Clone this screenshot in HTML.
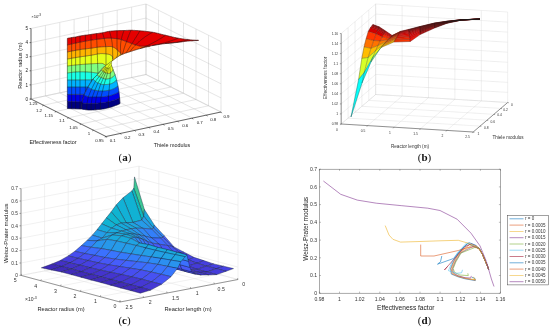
<!DOCTYPE html>
<html><head><meta charset="utf-8"><title>Figure</title>
<style>html,body{margin:0;padding:0;background:#fff;}svg{display:block;}</style>
</head><body>
<svg width="550" height="330" viewBox="0 0 550 330">
<rect width="550" height="330" fill="#ffffff"/>
<g id='plot_a'>
<g><line x1="31" y1="99" x2="31" y2="28.5" stroke="#c2c2c2" stroke-width="0.65" stroke-dasharray="0.7 0.35"/><line x1="45.4" y1="95.9" x2="45.4" y2="25.4" stroke="#c2c2c2" stroke-width="0.65" stroke-dasharray="0.7 0.35"/><line x1="59.8" y1="92.9" x2="59.8" y2="22.4" stroke="#c2c2c2" stroke-width="0.65" stroke-dasharray="0.7 0.35"/><line x1="74.1" y1="89.8" x2="74.1" y2="19.3" stroke="#c2c2c2" stroke-width="0.65" stroke-dasharray="0.7 0.35"/><line x1="88.5" y1="86.8" x2="88.5" y2="16.2" stroke="#c2c2c2" stroke-width="0.65" stroke-dasharray="0.7 0.35"/><line x1="102.9" y1="83.7" x2="102.9" y2="13.2" stroke="#c2c2c2" stroke-width="0.65" stroke-dasharray="0.7 0.35"/><line x1="117.2" y1="80.6" x2="117.2" y2="10.1" stroke="#c2c2c2" stroke-width="0.65" stroke-dasharray="0.7 0.35"/><line x1="131.6" y1="77.6" x2="131.6" y2="7.1" stroke="#c2c2c2" stroke-width="0.65" stroke-dasharray="0.7 0.35"/><line x1="146" y1="74.5" x2="146" y2="4" stroke="#c2c2c2" stroke-width="0.65" stroke-dasharray="0.7 0.35"/><line x1="31" y1="99" x2="146" y2="74.5" stroke="#c2c2c2" stroke-width="0.65" stroke-dasharray="0.7 0.35"/><line x1="31" y1="84.9" x2="146" y2="60.4" stroke="#c2c2c2" stroke-width="0.65" stroke-dasharray="0.7 0.35"/><line x1="31" y1="70.8" x2="146" y2="46.3" stroke="#c2c2c2" stroke-width="0.65" stroke-dasharray="0.7 0.35"/><line x1="31" y1="56.7" x2="146" y2="32.2" stroke="#c2c2c2" stroke-width="0.65" stroke-dasharray="0.7 0.35"/><line x1="31" y1="42.6" x2="146" y2="18.1" stroke="#c2c2c2" stroke-width="0.65" stroke-dasharray="0.7 0.35"/><line x1="31" y1="28.5" x2="146" y2="4" stroke="#c2c2c2" stroke-width="0.65" stroke-dasharray="0.7 0.35"/><line x1="221" y1="112" x2="221" y2="41.5" stroke="#c2c2c2" stroke-width="0.65" stroke-dasharray="0.7 0.35"/><line x1="208.5" y1="105.8" x2="208.5" y2="35.2" stroke="#c2c2c2" stroke-width="0.65" stroke-dasharray="0.7 0.35"/><line x1="196" y1="99.5" x2="196" y2="29" stroke="#c2c2c2" stroke-width="0.65" stroke-dasharray="0.7 0.35"/><line x1="183.5" y1="93.2" x2="183.5" y2="22.8" stroke="#c2c2c2" stroke-width="0.65" stroke-dasharray="0.7 0.35"/><line x1="171" y1="87" x2="171" y2="16.5" stroke="#c2c2c2" stroke-width="0.65" stroke-dasharray="0.7 0.35"/><line x1="158.5" y1="80.8" x2="158.5" y2="10.2" stroke="#c2c2c2" stroke-width="0.65" stroke-dasharray="0.7 0.35"/><line x1="146" y1="74.5" x2="146" y2="4" stroke="#c2c2c2" stroke-width="0.65" stroke-dasharray="0.7 0.35"/><line x1="221" y1="112" x2="146" y2="74.5" stroke="#c2c2c2" stroke-width="0.65" stroke-dasharray="0.7 0.35"/><line x1="221" y1="97.9" x2="146" y2="60.4" stroke="#c2c2c2" stroke-width="0.65" stroke-dasharray="0.7 0.35"/><line x1="221" y1="83.8" x2="146" y2="46.3" stroke="#c2c2c2" stroke-width="0.65" stroke-dasharray="0.7 0.35"/><line x1="221" y1="69.7" x2="146" y2="32.2" stroke="#c2c2c2" stroke-width="0.65" stroke-dasharray="0.7 0.35"/><line x1="221" y1="55.6" x2="146" y2="18.1" stroke="#c2c2c2" stroke-width="0.65" stroke-dasharray="0.7 0.35"/><line x1="221" y1="41.5" x2="146" y2="4" stroke="#c2c2c2" stroke-width="0.65" stroke-dasharray="0.7 0.35"/><line x1="106" y1="136.5" x2="31" y2="99" stroke="#c2c2c2" stroke-width="0.65" stroke-dasharray="0.7 0.35"/><line x1="120.4" y1="133.4" x2="45.4" y2="95.9" stroke="#c2c2c2" stroke-width="0.65" stroke-dasharray="0.7 0.35"/><line x1="134.8" y1="130.4" x2="59.8" y2="92.9" stroke="#c2c2c2" stroke-width="0.65" stroke-dasharray="0.7 0.35"/><line x1="149.1" y1="127.3" x2="74.1" y2="89.8" stroke="#c2c2c2" stroke-width="0.65" stroke-dasharray="0.7 0.35"/><line x1="163.5" y1="124.2" x2="88.5" y2="86.8" stroke="#c2c2c2" stroke-width="0.65" stroke-dasharray="0.7 0.35"/><line x1="177.9" y1="121.2" x2="102.9" y2="83.7" stroke="#c2c2c2" stroke-width="0.65" stroke-dasharray="0.7 0.35"/><line x1="192.2" y1="118.1" x2="117.2" y2="80.6" stroke="#c2c2c2" stroke-width="0.65" stroke-dasharray="0.7 0.35"/><line x1="206.6" y1="115.1" x2="131.6" y2="77.6" stroke="#c2c2c2" stroke-width="0.65" stroke-dasharray="0.7 0.35"/><line x1="221" y1="112" x2="146" y2="74.5" stroke="#c2c2c2" stroke-width="0.65" stroke-dasharray="0.7 0.35"/><line x1="106" y1="136.5" x2="221" y2="112" stroke="#c2c2c2" stroke-width="0.65" stroke-dasharray="0.7 0.35"/><line x1="93.5" y1="130.2" x2="208.5" y2="105.8" stroke="#c2c2c2" stroke-width="0.65" stroke-dasharray="0.7 0.35"/><line x1="81" y1="124" x2="196" y2="99.5" stroke="#c2c2c2" stroke-width="0.65" stroke-dasharray="0.7 0.35"/><line x1="68.5" y1="117.8" x2="183.5" y2="93.2" stroke="#c2c2c2" stroke-width="0.65" stroke-dasharray="0.7 0.35"/><line x1="56" y1="111.5" x2="171" y2="87" stroke="#c2c2c2" stroke-width="0.65" stroke-dasharray="0.7 0.35"/><line x1="43.5" y1="105.2" x2="158.5" y2="80.8" stroke="#c2c2c2" stroke-width="0.65" stroke-dasharray="0.7 0.35"/><line x1="31" y1="99" x2="146" y2="74.5" stroke="#c2c2c2" stroke-width="0.65" stroke-dasharray="0.7 0.35"/></g>
<line x1="31" y1="99" x2="31" y2="28.5" stroke="#111" stroke-width="0.6" />
<line x1="31" y1="99" x2="106" y2="136.5" stroke="#111" stroke-width="0.6" />
<line x1="106" y1="136.5" x2="221" y2="112" stroke="#111" stroke-width="0.6" />
<line x1="31" y1="99" x2="29.5" y2="99" stroke="#111" stroke-width="0.5" />
<line x1="31" y1="84.9" x2="29.5" y2="84.9" stroke="#111" stroke-width="0.5" />
<line x1="31" y1="70.8" x2="29.5" y2="70.8" stroke="#111" stroke-width="0.5" />
<line x1="31" y1="56.7" x2="29.5" y2="56.7" stroke="#111" stroke-width="0.5" />
<line x1="31" y1="42.6" x2="29.5" y2="42.6" stroke="#111" stroke-width="0.5" />
<line x1="31" y1="28.5" x2="29.5" y2="28.5" stroke="#111" stroke-width="0.5" />
<line x1="106" y1="136.5" x2="104.8" y2="137.2" stroke="#111" stroke-width="0.5" />
<line x1="93.5" y1="130.2" x2="92.3" y2="130.9" stroke="#111" stroke-width="0.5" />
<line x1="81" y1="124" x2="79.8" y2="124.7" stroke="#111" stroke-width="0.5" />
<line x1="68.5" y1="117.8" x2="67.3" y2="118.5" stroke="#111" stroke-width="0.5" />
<line x1="56" y1="111.5" x2="54.8" y2="112.2" stroke="#111" stroke-width="0.5" />
<line x1="43.5" y1="105.2" x2="42.3" y2="106" stroke="#111" stroke-width="0.5" />
<line x1="31" y1="99" x2="29.8" y2="99.7" stroke="#111" stroke-width="0.5" />
<line x1="106" y1="136.5" x2="106.8" y2="137.7" stroke="#111" stroke-width="0.5" />
<line x1="120.4" y1="133.4" x2="121.2" y2="134.6" stroke="#111" stroke-width="0.5" />
<line x1="134.8" y1="130.4" x2="135.6" y2="131.6" stroke="#111" stroke-width="0.5" />
<line x1="149.1" y1="127.3" x2="149.9" y2="128.5" stroke="#111" stroke-width="0.5" />
<line x1="163.5" y1="124.2" x2="164.3" y2="125.5" stroke="#111" stroke-width="0.5" />
<line x1="177.9" y1="121.2" x2="178.7" y2="122.4" stroke="#111" stroke-width="0.5" />
<line x1="192.2" y1="118.1" x2="193.1" y2="119.3" stroke="#111" stroke-width="0.5" />
<line x1="206.6" y1="115.1" x2="207.4" y2="116.3" stroke="#111" stroke-width="0.5" />
<line x1="221" y1="112" x2="221.8" y2="113.2" stroke="#111" stroke-width="0.5" />
<g stroke-linejoin='round'><polygon points="67.4,101.5 82.2,102 82.1,102 82.1,102.5 82,103 81.9,103.5 81.9,104 81.8,104.5 81.8,105 81.8,105.5 81.7,106 81.7,106.5 81.7,107 81.6,107.5 81.6,108 81.6,108.5 81.6,109 81.6,109 67.4,108.5" fill="#000080" stroke="#000080" stroke-width="0.3" /><polygon points="67.4,94.5 84.3,94.3 84.2,94.3 84.1,94.8 83.9,95.3 83.8,95.7 83.6,96.2 83.4,96.7 83.3,97.2 83.1,97.6 83,98.1 82.9,98.6 82.7,99.1 82.6,99.6 82.5,100.1 82.4,100.6 82.3,101.1 82.2,101.6 82.1,102 82.2,102 67.4,101.5" fill="#0000e6" stroke="#0000e6" stroke-width="0.3" /><polygon points="67.4,87 88,87 88.1,86.8 87.9,87.2 87.6,87.7 87.4,88.1 87.1,88.5 86.9,89 86.6,89.4 86.4,89.9 86.2,90.3 85.9,90.7 85.7,91.2 85.4,91.6 85.2,92.1 85,92.5 84.8,93 84.6,93.4 84.4,93.9 84.2,94.3 84.3,94.3 67.4,94.5" fill="#004dff" stroke="#004dff" stroke-width="0.3" /><polygon points="67.4,80 92.5,79.8 92.6,79.5 92.3,79.9 92,80.3 91.7,80.7 91.4,81.1 91.1,81.6 90.9,82 90.6,82.4 90.3,82.8 90.1,83.3 89.8,83.7 89.6,84.2 89.3,84.6 89.1,85 88.8,85.5 88.6,85.9 88.4,86.4 88.1,86.8 88,87 67.4,87" fill="#00b2ff" stroke="#00b2ff" stroke-width="0.3" /><polygon points="67.4,73 67.8,72.9 68.2,72.9 68.6,72.8 69,72.7 69.4,72.7 69.8,72.6 70.2,72.6 70.5,72.5 70.9,72.5 71.3,72.4 71.7,72.4 72.1,72.3 72.5,72.3 72.9,72.2 73.3,72.2 73.7,72.1 74.1,72.1 74.5,72.1 74.9,72 75.3,72 75.7,72 76.1,71.9 76.4,71.9 76.8,71.9 77.2,71.9 77.6,71.9 78,71.8 78.4,71.8 78.8,71.8 79.2,71.8 79.6,71.8 80,71.8 80.4,71.8 80.8,71.8 81.2,71.8 81.6,71.8 82,71.8 82.4,71.8 82.7,71.8 83.1,71.8 83.5,71.8 83.9,71.9 84.3,71.9 84.7,71.9 85.1,71.9 85.5,71.9 85.9,71.9 86.3,71.9 86.7,72 87.1,72 87.5,72 87.9,72 88.3,72.1 88.7,72.1 89,72.1 89.4,72.1 89.8,72.2 90.2,72.2 90.6,72.2 91,72.3 91.4,72.3 91.8,72.3 92.2,72.4 92.6,72.4 93,72.5 93.4,72.5 93.8,72.6 94.2,72.6 94.6,72.7 95,72.7 95.3,72.8 95.7,72.8 96.1,72.9 96.5,73 96.9,73 97.3,73.1 97.7,73.2 98.1,73.2 98.5,73.3 98.4,73.5 98.1,73.9 97.9,74.4 97.6,74.8 97.3,75.1 97,75.5 96.6,75.8 96.2,76.2 95.8,76.5 95.4,76.8 95,77.1 94.6,77.5 94.3,77.8 93.9,78.1 93.5,78.4 93.2,78.8 92.9,79.2 92.6,79.5 92.5,79.8 67.4,80" fill="#1affe5" stroke="#1affe5" stroke-width="0.3" /><polygon points="67.4,66 67.9,65.9 68.4,65.9 68.9,65.8 69.4,65.7 69.9,65.7 70.4,65.6 70.9,65.6 71.3,65.5 71.8,65.4 72.3,65.4 72.8,65.3 73.3,65.3 73.8,65.2 74.3,65.1 74.8,65.1 75.3,65 75.8,65 76.3,64.9 76.8,64.9 77.3,64.8 77.8,64.8 78.3,64.7 78.8,64.7 79.3,64.7 79.7,64.6 80.2,64.6 80.7,64.5 81.2,64.5 81.7,64.5 82.2,64.4 82.7,64.4 83.2,64.4 83.7,64.3 84.2,64.3 84.8,64.2 85.3,64.2 85.8,64.2 86.3,64.1 86.8,64.1 87.3,64.1 87.8,64 88.3,64 88.8,63.9 89.3,63.9 89.8,63.9 90.3,63.8 90.8,63.8 91.3,63.8 91.9,63.7 92.4,63.7 92.9,63.7 93.4,63.7 93.9,63.6 94.4,63.6 94.9,63.6 95.4,63.6 95.8,63.5 96.3,63.5 96.8,63.5 97.3,63.5 97.8,63.5 98.3,63.5 98.8,63.4 99.2,63.4 99.7,63.4 100.2,63.4 100.7,63.4 101.1,63.4 101.6,63.4 102,63.4 102.5,63.5 103,63.6 103.4,63.9 103.8,64.1 104.3,64.4 104.7,64.7 105.1,65 105.6,65.3 106,65.6 105.8,65.5 105.4,65.8 105,66.1 104.6,66.4 104.2,66.7 103.8,67 103.4,67.3 103,67.6 102.7,68 102.3,68.3 102,68.7 101.7,69.1 101.3,69.4 101,69.8 100.7,70.2 100.4,70.6 100.1,71 99.8,71.4 99.5,71.8 99.2,72.2 98.9,72.6 98.7,73.1 98.4,73.5 98.5,73.3 98.1,73.2 97.7,73.2 97.3,73.1 96.9,73 96.5,73 96.1,72.9 95.7,72.8 95.3,72.8 95,72.7 94.6,72.7 94.2,72.6 93.8,72.6 93.4,72.5 93,72.5 92.6,72.4 92.2,72.4 91.8,72.3 91.4,72.3 91,72.3 90.6,72.2 90.2,72.2 89.8,72.2 89.4,72.1 89,72.1 88.7,72.1 88.3,72.1 87.9,72 87.5,72 87.1,72 86.7,72 86.3,71.9 85.9,71.9 85.5,71.9 85.1,71.9 84.7,71.9 84.3,71.9 83.9,71.9 83.5,71.8 83.1,71.8 82.7,71.8 82.4,71.8 82,71.8 81.6,71.8 81.2,71.8 80.8,71.8 80.4,71.8 80,71.8 79.6,71.8 79.2,71.8 78.8,71.8 78.4,71.8 78,71.8 77.6,71.9 77.2,71.9 76.8,71.9 76.4,71.9 76.1,71.9 75.7,72 75.3,72 74.9,72 74.5,72.1 74.1,72.1 73.7,72.1 73.3,72.2 72.9,72.2 72.5,72.3 72.1,72.3 71.7,72.4 71.3,72.4 70.9,72.5 70.5,72.5 70.2,72.6 69.8,72.6 69.4,72.7 69,72.7 68.6,72.8 68.2,72.9 67.8,72.9 67.4,73" fill="#80ff80" stroke="#80ff80" stroke-width="0.3" /><polygon points="67.4,59 68,58.9 68.6,58.8 69.3,58.7 69.9,58.6 70.5,58.5 71.1,58.3 71.8,58.2 72.4,58.1 73,58 73.6,57.9 74.3,57.8 74.9,57.7 75.5,57.6 76.1,57.5 76.8,57.4 77.4,57.3 78,57.2 78.6,57.1 79.3,57 79.9,56.9 80.5,56.8 81.1,56.7 81.8,56.6 82.4,56.5 83,56.4 83.6,56.4 84.3,56.3 84.9,56.2 85.5,56.1 86.2,56 86.8,55.9 87.4,55.8 88,55.7 88.7,55.6 89.3,55.5 89.9,55.4 90.5,55.4 91.2,55.3 91.8,55.2 92.4,55 93,54.9 93.7,54.8 94.3,54.7 94.9,54.5 95.5,54.4 96.2,54.3 96.8,54.2 97.4,54 98,53.9 98.7,53.8 99.3,53.8 99.9,53.7 100.5,53.6 101.2,53.6 101.8,53.6 102.4,53.6 103.1,53.6 103.7,53.7 104.4,53.7 105,53.8 105.7,53.8 106.3,53.9 106.9,54 107.6,54.1 108.1,54.2 108.7,54.3 109.4,54.5 110,54.8 110.7,55.1 111.3,55.5 111.9,56 112.3,56.5 112.6,56.9 112.7,57.4 112.7,58 112.7,58.6 112.6,59.2 112.5,59.9 112.4,60.6 112.3,60.8 111.9,61.1 111.5,61.4 111.1,61.7 110.7,62 110.3,62.3 109.9,62.6 109.5,62.9 109.1,63.2 108.7,63.5 108.3,63.8 107.9,64.1 107.5,64.4 107.1,64.7 106.6,65 106.2,65.2 105.8,65.5 106,65.6 105.6,65.3 105.1,65 104.7,64.7 104.3,64.4 103.8,64.1 103.4,63.9 103,63.6 102.5,63.5 102,63.4 101.6,63.4 101.1,63.4 100.7,63.4 100.2,63.4 99.7,63.4 99.2,63.4 98.8,63.4 98.3,63.5 97.8,63.5 97.3,63.5 96.8,63.5 96.3,63.5 95.8,63.5 95.4,63.6 94.9,63.6 94.4,63.6 93.9,63.6 93.4,63.7 92.9,63.7 92.4,63.7 91.9,63.7 91.3,63.8 90.8,63.8 90.3,63.8 89.8,63.9 89.3,63.9 88.8,63.9 88.3,64 87.8,64 87.3,64.1 86.8,64.1 86.3,64.1 85.8,64.2 85.3,64.2 84.8,64.2 84.2,64.3 83.7,64.3 83.2,64.4 82.7,64.4 82.2,64.4 81.7,64.5 81.2,64.5 80.7,64.5 80.2,64.6 79.7,64.6 79.3,64.7 78.8,64.7 78.3,64.7 77.8,64.8 77.3,64.8 76.8,64.9 76.3,64.9 75.8,65 75.3,65 74.8,65.1 74.3,65.1 73.8,65.2 73.3,65.3 72.8,65.3 72.3,65.4 71.8,65.4 71.3,65.5 70.9,65.6 70.4,65.6 69.9,65.7 69.4,65.7 68.9,65.8 68.4,65.9 67.9,65.9 67.4,66" fill="#e5ff1a" stroke="#e5ff1a" stroke-width="0.3" /><polygon points="67.4,52 68.1,51.8 68.8,51.7 69.5,51.5 70.3,51.4 71,51.2 71.7,51.1 72.4,50.9 73.1,50.8 73.9,50.7 74.6,50.5 75.3,50.4 76,50.3 76.7,50.1 77.4,50 78.2,49.9 78.9,49.8 79.6,49.7 80.3,49.5 81.1,49.4 81.8,49.3 82.5,49.2 83.2,49.1 84,49.1 84.7,49 85.4,48.9 86.1,48.8 86.9,48.7 87.6,48.6 88.3,48.5 89,48.4 89.8,48.3 90.5,48.3 91.2,48.2 91.9,48.1 92.7,48 93.4,47.8 94.1,47.7 94.8,47.6 95.6,47.5 96.3,47.4 97,47.3 97.7,47.2 98.5,47.1 99.2,47 99.9,46.9 100.6,46.9 101.4,46.8 102.1,46.8 102.8,46.7 103.6,46.7 104.3,46.7 105.1,46.6 105.8,46.6 106.5,46.6 107.3,46.6 108,46.5 108.7,46.5 109.4,46.5 110.2,46.5 110.9,46.5 111.6,46.6 112.3,46.8 113,47.1 113.7,47.4 114.4,47.7 115,48.1 115.6,48.5 116.2,48.9 116.8,49.3 117.3,49.8 117.8,50.4 118.3,50.9 118.8,51.5 119.3,52 119.8,52.5 120.4,53 120.9,53.5 121.5,54 122,54.5 121.8,54.5 121.4,54.7 120.9,54.9 120.5,55.2 120,55.4 119.6,55.6 119.2,55.9 118.8,56.2 118.3,56.4 117.9,56.7 117.5,57 117.1,57.3 116.7,57.5 116.3,57.8 115.8,58.1 115.4,58.4 115,58.7 114.6,59 114.2,59.3 113.8,59.6 113.4,59.9 113,60.2 112.6,60.5 112.3,60.8 112.4,60.6 112.5,59.9 112.6,59.2 112.7,58.6 112.7,58 112.7,57.4 112.6,56.9 112.3,56.5 111.9,56 111.3,55.5 110.7,55.1 110,54.8 109.4,54.5 108.7,54.3 108.1,54.2 107.6,54.1 106.9,54 106.3,53.9 105.7,53.8 105,53.8 104.4,53.7 103.7,53.7 103.1,53.6 102.4,53.6 101.8,53.6 101.2,53.6 100.5,53.6 99.9,53.7 99.3,53.8 98.7,53.8 98,53.9 97.4,54 96.8,54.2 96.2,54.3 95.5,54.4 94.9,54.5 94.3,54.7 93.7,54.8 93,54.9 92.4,55 91.8,55.2 91.2,55.3 90.5,55.4 89.9,55.4 89.3,55.5 88.7,55.6 88,55.7 87.4,55.8 86.8,55.9 86.2,56 85.5,56.1 84.9,56.2 84.3,56.3 83.6,56.4 83,56.4 82.4,56.5 81.8,56.6 81.1,56.7 80.5,56.8 79.9,56.9 79.3,57 78.6,57.1 78,57.2 77.4,57.3 76.8,57.4 76.1,57.5 75.5,57.6 74.9,57.7 74.3,57.8 73.6,57.9 73,58 72.4,58.1 71.8,58.2 71.1,58.3 70.5,58.5 69.9,58.6 69.3,58.7 68.6,58.8 68,58.9 67.4,59" fill="#ffb300" stroke="#ffb300" stroke-width="0.3" /><polygon points="67.4,45 68.4,44.7 69.5,44.5 70.5,44.3 71.6,44 72.6,43.8 73.6,43.5 74.7,43.3 75.7,43.1 76.8,42.9 77.8,42.6 78.9,42.4 79.9,42.2 81,42 82,41.8 83.1,41.6 84.1,41.4 85.2,41.2 86.2,41 87.3,40.8 88.3,40.6 89.4,40.4 90.4,40.3 91.5,40.1 92.5,39.9 93.6,39.8 94.6,39.6 95.7,39.5 96.8,39.4 97.8,39.2 98.9,39.1 99.9,39 101,38.8 102.1,38.7 103.1,38.6 104.2,38.5 105.3,38.4 106.3,38.3 107.4,38.2 108.5,38.2 109.5,38.2 110.6,38.2 111.7,38.3 112.7,38.3 113.8,38.4 114.9,38.5 115.9,38.6 117,38.7 118,38.9 119.1,39 120.1,39.3 121.1,39.6 122.1,39.9 123.1,40.3 124.1,40.7 125.2,41.1 126.2,41.5 127.2,41.9 128.2,42.2 129.2,42.6 130.2,43 131.2,43.3 132.2,43.7 133.2,44.1 134.2,44.4 135.2,44.7 136.3,45 137.3,45.4 138.3,45.7 139.4,46 140.4,46.1 141.5,46.2 142.5,46.2 143.6,46.2 144.6,46.2 145.7,46.2 146.8,46.2 147.8,46.2 148.9,46.1 150,46.1 150,46.1 149.5,46.2 149,46.3 148.5,46.4 148.1,46.5 147.6,46.6 147.1,46.7 146.6,46.9 146.1,47 145.6,47.1 145.1,47.2 144.7,47.3 144.2,47.5 143.7,47.6 143.2,47.7 142.7,47.9 142.2,48 141.8,48.1 141.3,48.2 140.8,48.4 140.3,48.5 139.8,48.6 139.4,48.8 138.9,48.9 138.4,49 137.9,49.2 137.4,49.3 137,49.5 136.5,49.6 136,49.8 135.5,49.9 135.1,50 134.6,50.2 134.1,50.3 133.6,50.5 133.2,50.6 132.7,50.8 132.2,51 131.7,51.1 131.3,51.3 130.8,51.4 130.3,51.6 129.8,51.7 129.4,51.9 128.9,52 128.4,52.2 127.9,52.3 127.5,52.5 127,52.7 126.5,52.8 126,53 125.5,53.1 125.1,53.3 124.6,53.4 124.1,53.6 123.7,53.8 123.2,54 122.7,54.1 122.3,54.3 121.8,54.5 122,54.5 121.5,54 120.9,53.5 120.4,53 119.8,52.5 119.3,52 118.8,51.5 118.3,50.9 117.8,50.4 117.3,49.8 116.8,49.3 116.2,48.9 115.6,48.5 115,48.1 114.4,47.7 113.7,47.4 113,47.1 112.3,46.8 111.6,46.6 110.9,46.5 110.2,46.5 109.4,46.5 108.7,46.5 108,46.5 107.3,46.6 106.5,46.6 105.8,46.6 105.1,46.6 104.3,46.7 103.6,46.7 102.8,46.7 102.1,46.8 101.4,46.8 100.6,46.9 99.9,46.9 99.2,47 98.5,47.1 97.7,47.2 97,47.3 96.3,47.4 95.6,47.5 94.8,47.6 94.1,47.7 93.4,47.8 92.7,48 91.9,48.1 91.2,48.2 90.5,48.3 89.8,48.3 89,48.4 88.3,48.5 87.6,48.6 86.9,48.7 86.1,48.8 85.4,48.9 84.7,49 84,49.1 83.2,49.1 82.5,49.2 81.8,49.3 81.1,49.4 80.3,49.5 79.6,49.7 78.9,49.8 78.2,49.9 77.4,50 76.7,50.1 76,50.3 75.3,50.4 74.6,50.5 73.9,50.7 73.1,50.8 72.4,50.9 71.7,51.1 71,51.2 70.3,51.4 69.5,51.5 68.8,51.7 68.1,51.8 67.4,52" fill="#ff4c00" stroke="#ff4c00" stroke-width="0.3" /><polygon points="67.4,38.4 68.1,38.3 68.7,38.1 69.4,38 70,37.9 70.7,37.8 71.3,37.6 72,37.5 72.6,37.4 73.3,37.3 74,37.3 74.6,37.2 75.3,37.1 75.9,36.9 76.6,36.8 77.2,36.6 77.9,36.5 78.5,36.3 79.2,36.2 79.8,36 80.5,35.9 81.1,35.8 81.8,35.7 82.5,35.6 83.1,35.5 83.8,35.4 84.4,35.3 85.1,35.2 85.8,35.1 86.4,35.1 87.1,35 87.7,34.9 88.4,34.8 89.1,34.7 89.7,34.6 90.4,34.5 91,34.4 91.7,34.3 92.4,34.2 93,34.1 93.7,34 94.3,33.9 95,33.8 95.7,33.7 96.3,33.6 97,33.5 97.6,33.5 98.3,33.4 99,33.3 99.6,33.2 100.3,33.1 101,33 101.6,32.9 102.3,32.8 102.9,32.7 103.6,32.6 104.2,32.4 104.9,32.3 105.5,32.1 106.2,31.9 106.8,31.8 107.5,31.6 108.1,31.5 108.8,31.4 109.4,31.3 110.1,31.2 110.8,31.2 111.4,31.1 112.1,31 112.8,31 113.4,30.9 114.1,30.9 114.8,30.8 115.4,30.8 116.1,30.7 116.8,30.7 117.4,30.7 118.1,30.7 118.8,30.6 119.4,30.6 120.1,30.6 120.8,30.6 121.4,30.6 122.1,30.5 122.8,30.5 123.4,30.5 124.1,30.5 124.8,30.5 125.4,30.5 126.1,30.4 126.8,30.4 127.4,30.4 128.1,30.4 128.8,30.3 129.4,30.3 130.1,30.3 130.7,30.3 131.4,30.3 132.1,30.3 132.7,30.3 133.4,30.4 134.1,30.4 134.7,30.4 135.4,30.5 136.1,30.5 136.7,30.6 137.4,30.6 138.1,30.7 138.7,30.7 139.4,30.8 140.1,30.8 140.7,30.9 141.4,30.9 142.1,31 142.7,31 143.4,31.1 144.1,31.2 144.7,31.2 145.4,31.3 146,31.4 146.7,31.5 147.4,31.5 148,31.6 148.7,31.7 149.4,31.8 150,31.9 150.7,32 151.3,32.1 152,32.2 152.6,32.3 153.3,32.4 154,32.5 154.6,32.6 155.3,32.8 155.9,32.9 156.6,33.1 157.2,33.2 157.9,33.4 158.5,33.5 159.2,33.7 159.8,33.9 160.4,34 161.1,34.2 161.7,34.4 162.4,34.5 163,34.7 163.7,34.9 164.3,35 165,35.2 165.6,35.3 166.3,35.5 166.9,35.6 167.6,35.8 168.2,35.9 168.9,36.1 169.5,36.3 170.2,36.4 170.8,36.6 171.5,36.7 172.1,36.9 172.8,37.1 173.4,37.2 174.1,37.4 174.7,37.5 175.4,37.6 176,37.8 176.7,37.9 177.3,38 178,38.2 178.6,38.3 179.3,38.4 179.9,38.5 180.6,38.6 181.3,38.7 181.9,38.8 182.6,38.9 183.2,39 183.9,39.1 184.6,39.2 185.2,39.3 185.9,39.4 186.5,39.5 187.2,39.6 187.9,39.6 188.5,39.7 189.2,39.8 189.8,39.8 190.5,39.9 191.2,39.9 191.8,40 192.5,40.1 193.2,40.1 193.8,40.2 194.5,40.2 195.2,40.2 195.8,40.3 196.5,40.3 197.2,40.3 197.8,40.4 198.5,40.4 198.5,40.4 198,40.4 197.5,40.4 197,40.4 196.5,40.5 196,40.5 195.5,40.5 195,40.5 194.5,40.6 194,40.6 193.5,40.6 193,40.7 192.5,40.7 192,40.7 191.5,40.8 191,40.8 190.5,40.8 190,40.9 189.5,40.9 189,40.9 188.5,41 188,41 187.6,41.1 187.1,41.1 186.6,41.2 186.1,41.2 185.6,41.3 185.1,41.4 184.6,41.4 184.1,41.5 183.6,41.6 183.1,41.6 182.6,41.7 182.1,41.8 181.6,41.9 181.1,41.9 180.6,42 180.1,42.1 179.6,42.1 179.1,42.2 178.6,42.2 178.2,42.3 177.7,42.4 177.2,42.4 176.7,42.5 176.2,42.5 175.7,42.6 175.2,42.6 174.7,42.6 174.2,42.7 173.7,42.7 173.2,42.8 172.7,42.8 172.2,42.9 171.7,42.9 171.2,42.9 170.7,43 170.2,43 169.7,43.1 169.2,43.1 168.7,43.2 168.2,43.2 167.7,43.3 167.2,43.3 166.7,43.4 166.2,43.4 165.7,43.5 165.2,43.5 164.7,43.6 164.3,43.7 163.8,43.7 163.3,43.8 162.8,43.8 162.3,43.9 161.8,44 161.3,44.1 160.8,44.1 160.3,44.2 159.8,44.3 159.3,44.4 158.8,44.4 158.3,44.5 157.8,44.6 157.3,44.7 156.8,44.8 156.4,44.8 155.9,44.9 155.4,45 154.9,45.1 154.4,45.2 153.9,45.3 153.4,45.4 152.9,45.5 152.4,45.6 151.9,45.6 151.5,45.7 151,45.8 150.5,46 150,46.1 150,46.1 148.9,46.1 147.8,46.2 146.8,46.2 145.7,46.2 144.6,46.2 143.6,46.2 142.5,46.2 141.5,46.2 140.4,46.1 139.4,46 138.3,45.7 137.3,45.4 136.3,45 135.2,44.7 134.2,44.4 133.2,44.1 132.2,43.7 131.2,43.3 130.2,43 129.2,42.6 128.2,42.2 127.2,41.9 126.2,41.5 125.2,41.1 124.1,40.7 123.1,40.3 122.1,39.9 121.1,39.6 120.1,39.3 119.1,39 118,38.9 117,38.7 115.9,38.6 114.9,38.5 113.8,38.4 112.7,38.3 111.7,38.3 110.6,38.2 109.5,38.2 108.5,38.2 107.4,38.2 106.3,38.3 105.3,38.4 104.2,38.5 103.1,38.6 102.1,38.7 101,38.8 99.9,39 98.9,39.1 97.8,39.2 96.8,39.4 95.7,39.5 94.6,39.6 93.6,39.8 92.5,39.9 91.5,40.1 90.4,40.3 89.4,40.4 88.3,40.6 87.3,40.8 86.2,41 85.2,41.2 84.1,41.4 83.1,41.6 82,41.8 81,42 79.9,42.2 78.9,42.4 77.8,42.6 76.8,42.9 75.7,43.1 74.7,43.3 73.6,43.5 72.6,43.8 71.6,44 70.5,44.3 69.5,44.5 68.4,44.7 67.4,45" fill="#e50000" stroke="#e50000" stroke-width="0.3" /><polyline points="67.4,108.5 81.6,109" fill="none" stroke="#151515" stroke-width="0.45" /><polyline points="67.4,101.5 82.2,102" fill="none" stroke="#151515" stroke-width="0.45" /><polyline points="67.4,94.5 84.3,94.3" fill="none" stroke="#151515" stroke-width="0.45" /><polyline points="67.4,87 88,87" fill="none" stroke="#151515" stroke-width="0.45" /><polyline points="67.4,80 92.5,79.8" fill="none" stroke="#151515" stroke-width="0.45" /><polyline points="67.4,73 67.8,72.9 68.2,72.9 68.6,72.8 69,72.7 69.4,72.7 69.8,72.6 70.2,72.6 70.5,72.5 70.9,72.5 71.3,72.4 71.7,72.4 72.1,72.3 72.5,72.3 72.9,72.2 73.3,72.2 73.7,72.1 74.1,72.1 74.5,72.1 74.9,72 75.3,72 75.7,72 76.1,71.9 76.4,71.9 76.8,71.9 77.2,71.9 77.6,71.9 78,71.8 78.4,71.8 78.8,71.8 79.2,71.8 79.6,71.8 80,71.8 80.4,71.8 80.8,71.8 81.2,71.8 81.6,71.8 82,71.8 82.4,71.8 82.7,71.8 83.1,71.8 83.5,71.8 83.9,71.9 84.3,71.9 84.7,71.9 85.1,71.9 85.5,71.9 85.9,71.9 86.3,71.9 86.7,72 87.1,72 87.5,72 87.9,72 88.3,72.1 88.7,72.1 89,72.1 89.4,72.1 89.8,72.2 90.2,72.2 90.6,72.2 91,72.3 91.4,72.3 91.8,72.3 92.2,72.4 92.6,72.4 93,72.5 93.4,72.5 93.8,72.6 94.2,72.6 94.6,72.7 95,72.7 95.3,72.8 95.7,72.8 96.1,72.9 96.5,73 96.9,73 97.3,73.1 97.7,73.2 98.1,73.2 98.5,73.3" fill="none" stroke="#151515" stroke-width="0.45" /><polyline points="67.4,66 67.9,65.9 68.4,65.9 68.9,65.8 69.4,65.7 69.9,65.7 70.4,65.6 70.9,65.6 71.3,65.5 71.8,65.4 72.3,65.4 72.8,65.3 73.3,65.3 73.8,65.2 74.3,65.1 74.8,65.1 75.3,65 75.8,65 76.3,64.9 76.8,64.9 77.3,64.8 77.8,64.8 78.3,64.7 78.8,64.7 79.3,64.7 79.7,64.6 80.2,64.6 80.7,64.5 81.2,64.5 81.7,64.5 82.2,64.4 82.7,64.4 83.2,64.4 83.7,64.3 84.2,64.3 84.8,64.2 85.3,64.2 85.8,64.2 86.3,64.1 86.8,64.1 87.3,64.1 87.8,64 88.3,64 88.8,63.9 89.3,63.9 89.8,63.9 90.3,63.8 90.8,63.8 91.3,63.8 91.9,63.7 92.4,63.7 92.9,63.7 93.4,63.7 93.9,63.6 94.4,63.6 94.9,63.6 95.4,63.6 95.8,63.5 96.3,63.5 96.8,63.5 97.3,63.5 97.8,63.5 98.3,63.5 98.8,63.4 99.2,63.4 99.7,63.4 100.2,63.4 100.7,63.4 101.1,63.4 101.6,63.4 102,63.4 102.5,63.5 103,63.6 103.4,63.9 103.8,64.1 104.3,64.4 104.7,64.7 105.1,65 105.6,65.3 106,65.6" fill="none" stroke="#151515" stroke-width="0.45" /><polyline points="67.4,59 68,58.9 68.6,58.8 69.3,58.7 69.9,58.6 70.5,58.5 71.1,58.3 71.8,58.2 72.4,58.1 73,58 73.6,57.9 74.3,57.8 74.9,57.7 75.5,57.6 76.1,57.5 76.8,57.4 77.4,57.3 78,57.2 78.6,57.1 79.3,57 79.9,56.9 80.5,56.8 81.1,56.7 81.8,56.6 82.4,56.5 83,56.4 83.6,56.4 84.3,56.3 84.9,56.2 85.5,56.1 86.2,56 86.8,55.9 87.4,55.8 88,55.7 88.7,55.6 89.3,55.5 89.9,55.4 90.5,55.4 91.2,55.3 91.8,55.2 92.4,55 93,54.9 93.7,54.8 94.3,54.7 94.9,54.5 95.5,54.4 96.2,54.3 96.8,54.2 97.4,54 98,53.9 98.7,53.8 99.3,53.8 99.9,53.7 100.5,53.6 101.2,53.6 101.8,53.6 102.4,53.6 103.1,53.6 103.7,53.7 104.4,53.7 105,53.8 105.7,53.8 106.3,53.9 106.9,54 107.6,54.1 108.1,54.2 108.7,54.3 109.4,54.5 110,54.8 110.7,55.1 111.3,55.5 111.9,56 112.3,56.5 112.6,56.9 112.7,57.4 112.7,58 112.7,58.6 112.6,59.2 112.5,59.9 112.4,60.6" fill="none" stroke="#151515" stroke-width="0.45" /><polyline points="67.4,52 68.1,51.8 68.8,51.7 69.5,51.5 70.3,51.4 71,51.2 71.7,51.1 72.4,50.9 73.1,50.8 73.9,50.7 74.6,50.5 75.3,50.4 76,50.3 76.7,50.1 77.4,50 78.2,49.9 78.9,49.8 79.6,49.7 80.3,49.5 81.1,49.4 81.8,49.3 82.5,49.2 83.2,49.1 84,49.1 84.7,49 85.4,48.9 86.1,48.8 86.9,48.7 87.6,48.6 88.3,48.5 89,48.4 89.8,48.3 90.5,48.3 91.2,48.2 91.9,48.1 92.7,48 93.4,47.8 94.1,47.7 94.8,47.6 95.6,47.5 96.3,47.4 97,47.3 97.7,47.2 98.5,47.1 99.2,47 99.9,46.9 100.6,46.9 101.4,46.8 102.1,46.8 102.8,46.7 103.6,46.7 104.3,46.7 105.1,46.6 105.8,46.6 106.5,46.6 107.3,46.6 108,46.5 108.7,46.5 109.4,46.5 110.2,46.5 110.9,46.5 111.6,46.6 112.3,46.8 113,47.1 113.7,47.4 114.4,47.7 115,48.1 115.6,48.5 116.2,48.9 116.8,49.3 117.3,49.8 117.8,50.4 118.3,50.9 118.8,51.5 119.3,52 119.8,52.5 120.4,53 120.9,53.5 121.5,54 122,54.5" fill="none" stroke="#151515" stroke-width="0.45" /><polyline points="67.4,45 68.4,44.7 69.5,44.5 70.5,44.3 71.6,44 72.6,43.8 73.6,43.5 74.7,43.3 75.7,43.1 76.8,42.9 77.8,42.6 78.9,42.4 79.9,42.2 81,42 82,41.8 83.1,41.6 84.1,41.4 85.2,41.2 86.2,41 87.3,40.8 88.3,40.6 89.4,40.4 90.4,40.3 91.5,40.1 92.5,39.9 93.6,39.8 94.6,39.6 95.7,39.5 96.8,39.4 97.8,39.2 98.9,39.1 99.9,39 101,38.8 102.1,38.7 103.1,38.6 104.2,38.5 105.3,38.4 106.3,38.3 107.4,38.2 108.5,38.2 109.5,38.2 110.6,38.2 111.7,38.3 112.7,38.3 113.8,38.4 114.9,38.5 115.9,38.6 117,38.7 118,38.9 119.1,39 120.1,39.3 121.1,39.6 122.1,39.9 123.1,40.3 124.1,40.7 125.2,41.1 126.2,41.5 127.2,41.9 128.2,42.2 129.2,42.6 130.2,43 131.2,43.3 132.2,43.7 133.2,44.1 134.2,44.4 135.2,44.7 136.3,45 137.3,45.4 138.3,45.7 139.4,46 140.4,46.1 141.5,46.2 142.5,46.2 143.6,46.2 144.6,46.2 145.7,46.2 146.8,46.2 147.8,46.2 148.9,46.1 150,46.1" fill="none" stroke="#151515" stroke-width="0.45" /><polyline points="67.4,38.4 67.4,108.5" fill="none" stroke="#151515" stroke-width="0.45" /><polyline points="71.6,37.6 71.6,108.7" fill="none" stroke="#151515" stroke-width="0.45" /><polyline points="75.6,37 75.6,108.8" fill="none" stroke="#151515" stroke-width="0.45" /><polyline points="80,36 80,109" fill="none" stroke="#151515" stroke-width="0.45" /><polyline points="85.4,35.2 85.4,92" fill="none" stroke="#151515" stroke-width="0.45" /><polyline points="91,34.4 91,36 91,37.7 91,39.3 91,41 91,42.6 91.1,44.2 91.1,45.9 91.1,47.5 91.1,49.2 91.1,50.8 91.1,52.5 91.1,54.1 91.2,55.7 91.2,57.4 91.2,59 91.2,60.7 91.2,62.3 91.2,63.9 91.3,65.6 91.3,67.2 91.3,68.9 91.3,70.5 91.3,72.2 91.4,73.8 91.4,75.4 91.4,77.1 91.4,78.7 91.5,80.4 91.5,82" fill="none" stroke="#151515" stroke-width="0.45" /><polyline points="96.6,33.6 96.6,35 96.7,36.4 96.7,37.8 96.8,39.2 96.8,40.6 96.9,42 96.9,43.4 97,44.7 97,46.1 97.1,47.5 97.1,48.9 97.2,50.3 97.2,51.7 97.3,53.1 97.3,54.5 97.4,55.9 97.4,57.3 97.5,58.7 97.5,60.1 97.6,61.5 97.6,62.9 97.6,64.2 97.7,65.6 97.7,67 97.8,68.4 97.8,69.8 97.9,71.2 97.9,72.6 98,74" fill="none" stroke="#151515" stroke-width="0.45" /><polyline points="102.4,32.8 102.8,33.9 103.1,35 103.5,36.1 103.8,37.2 104.1,38.3 104.4,39.4 104.7,40.6 105,41.7 105.2,42.8 105.4,43.9 105.6,45 105.7,46.2 105.8,47.3 105.9,48.4 105.9,49.5 105.9,50.7 105.9,51.8 105.9,52.9 106,54.1 106,55.2 106,56.3 106,57.5 106,58.6 106,59.8 106,60.9 106,62 106,63.2 106,64.3 106,65.5" fill="none" stroke="#151515" stroke-width="0.45" /><polyline points="109.5,31.3 109.8,32.2 110,33.2 110.3,34.1 110.5,35.1 110.8,36 111,37 111.2,37.9 111.4,38.9 111.6,39.8 111.8,40.8 111.9,41.7 112.1,42.7 112.2,43.6 112.3,44.6 112.4,45.5 112.4,46.5 112.5,47.4 112.5,48.4 112.6,49.3 112.6,50.3 112.6,51.3 112.6,52.2 112.6,53.2 112.7,54.2 112.7,55.1 112.7,56.1 112.7,57.1 112.7,58 112.7,59" fill="none" stroke="#151515" stroke-width="0.45" /><polyline points="117,30.7 117,31.6 117,32.6 117,33.5 117,34.4 117,35.4 117,36.3 117,37.2 117,38.2 117,39.1 117,40 117,41 117,41.9 117,42.8 117,43.8 117,44.7 117,45.6 117,46.6 117.1,47.5 117.2,48.5 117.3,49.4 117.3,50.3 117.4,51.3 117.5,52.2 117.6,53.1 117.6,54 117.5,54.9 117.3,55.8 116.9,56.7 116.5,57.6" fill="none" stroke="#151515" stroke-width="0.45" /><polyline points="124,30.5 123.7,31.3 123.4,32.2 123.1,33 122.8,33.9 122.5,34.7 122.3,35.6 122,36.4 121.8,37.3 121.6,38.2 121.4,39 121.2,39.9 121.1,40.7 120.9,41.6 120.8,42.5 120.7,43.3 120.6,44.2 120.6,45.1 120.5,45.9 120.5,46.8 120.5,47.7 120.5,48.6 120.5,49.4 120.6,50.3 120.6,51.2 120.6,52.1 120.6,52.9 120.5,53.8 120.3,54.7 120,55.5" fill="none" stroke="#151515" stroke-width="0.45" /><polyline points="131,30.3 130.6,31.1 130.3,31.9 129.9,32.7 129.6,33.6 129.2,34.4 128.9,35.2 128.6,36 128.2,36.9 127.9,37.7 127.6,38.5 127.3,39.4 127,40.2 126.7,41 126.4,41.9 126.1,42.7 125.8,43.5 125.5,44.4 125.2,45.2 124.9,46.1 124.7,46.9 124.4,47.7 124.1,48.6 123.9,49.4 123.6,50.3 123.4,51.2 123.2,52 122.9,52.8 122.5,53.6 122,54.4" fill="none" stroke="#151515" stroke-width="0.45" /><polyline points="140,30.8 139.5,31.6 139,32.3 138.6,33.1 138.1,33.9 137.6,34.6 137.1,35.4 136.7,36.2 136.2,36.9 135.7,37.7 135.2,38.4 134.7,39.2 134.3,40 133.8,40.7 133.3,41.5 132.8,42.3 132.3,43 131.8,43.8 131.4,44.5 130.9,45.3 130.4,46.1 129.9,46.8 129.4,47.6 128.9,48.3 128.4,49.1 128,49.9 127.5,50.6 127,51.4 126.5,52.1 126,52.9" fill="none" stroke="#151515" stroke-width="0.45" /><polyline points="152.7,32.3 151.7,32.8 150.8,33.3 149.9,33.8 149,34.3 148.1,34.9 147.2,35.5 146.3,36 145.4,36.6 144.6,37.2 143.7,37.9 142.9,38.5 142.1,39.1 141.3,39.8 140.5,40.4 139.7,41.1 139,41.8 138.2,42.4 137.4,43.1 136.7,43.8 136,44.5 135.2,45.3 134.5,46 133.8,46.7 133.1,47.5 132.5,48.3 131.8,49.1 131.2,49.9 130.6,50.7 130,51.6" fill="none" stroke="#151515" stroke-width="0.45" /><polyline points="165.5,35.3 164.7,35.9 163.8,36.4 163,37 162.2,37.5 161.3,38.1 160.5,38.6 159.6,39.1 158.8,39.6 157.9,40.1 157,40.6 156.2,41.1 155.3,41.6 154.4,42 153.6,42.5 152.7,43 151.8,43.4 150.9,43.9 150,44.3 149.1,44.7 148.2,45.2 147.3,45.6 146.4,46 145.5,46.4 144.6,46.8 143.7,47.2 142.8,47.5 141.9,47.9 140.9,48.3 140,48.6" fill="none" stroke="#151515" stroke-width="0.45" /><polyline points="178.2,38.2 177.3,38.6 176.4,38.9 175.6,39.2 174.7,39.6 173.8,39.9 172.9,40.2 172,40.5 171.1,40.8 170.2,41.1 169.3,41.4 168.4,41.7 167.5,42 166.6,42.2 165.7,42.5 164.8,42.8 163.9,43 163,43.2 162.1,43.5 161.2,43.7 160.3,43.9 159.4,44.1 158.5,44.4 157.5,44.6 156.6,44.7 155.7,44.9 154.8,45.1 153.9,45.3 152.9,45.4 152,45.6" fill="none" stroke="#151515" stroke-width="0.45" /><polyline points="188.4,39.7 187.6,39.9 186.8,40.1 186,40.3 185.2,40.5 184.4,40.7 183.6,40.9 182.8,41.1 182,41.2 181.2,41.4 180.4,41.6 179.6,41.7 178.8,41.9 178,42 177.2,42.2 176.4,42.3 175.6,42.4 174.8,42.5 174,42.6 173.2,42.8 172.3,42.9 171.5,43 170.7,43.1 169.9,43.2 169.1,43.2 168.3,43.3 167.5,43.4 166.6,43.5 165.8,43.5 165,43.6" fill="none" stroke="#151515" stroke-width="0.45" /><polyline points="67.4,38.4 68.1,38.3 68.7,38.1 69.4,38 70,37.9 70.7,37.8 71.3,37.6 72,37.5 72.6,37.4 73.3,37.3 74,37.3 74.6,37.2 75.3,37.1 75.9,36.9 76.6,36.8 77.2,36.6 77.9,36.5 78.5,36.3 79.2,36.2 79.8,36 80.5,35.9 81.1,35.8 81.8,35.7 82.5,35.6 83.1,35.5 83.8,35.4 84.4,35.3 85.1,35.2 85.8,35.1 86.4,35.1 87.1,35 87.7,34.9 88.4,34.8 89.1,34.7 89.7,34.6 90.4,34.5 91,34.4 91.7,34.3 92.4,34.2 93,34.1 93.7,34 94.3,33.9 95,33.8 95.7,33.7 96.3,33.6 97,33.5 97.6,33.5 98.3,33.4 99,33.3 99.6,33.2 100.3,33.1 101,33 101.6,32.9 102.3,32.8 102.9,32.7 103.6,32.6 104.2,32.4 104.9,32.3 105.5,32.1 106.2,31.9 106.8,31.8 107.5,31.6 108.1,31.5 108.8,31.4 109.4,31.3 110.1,31.2 110.8,31.2 111.4,31.1 112.1,31 112.8,31 113.4,30.9 114.1,30.9 114.8,30.8 115.4,30.8 116.1,30.7 116.8,30.7 117.4,30.7 118.1,30.7 118.8,30.6 119.4,30.6 120.1,30.6 120.8,30.6 121.4,30.6 122.1,30.5 122.8,30.5 123.4,30.5 124.1,30.5 124.8,30.5 125.4,30.5 126.1,30.4 126.8,30.4 127.4,30.4 128.1,30.4 128.8,30.3 129.4,30.3 130.1,30.3 130.7,30.3 131.4,30.3 132.1,30.3 132.7,30.3 133.4,30.4 134.1,30.4 134.7,30.4 135.4,30.5 136.1,30.5 136.7,30.6 137.4,30.6 138.1,30.7 138.7,30.7 139.4,30.8 140.1,30.8 140.7,30.9 141.4,30.9 142.1,31 142.7,31 143.4,31.1 144.1,31.2 144.7,31.2 145.4,31.3 146,31.4 146.7,31.5 147.4,31.5 148,31.6 148.7,31.7 149.4,31.8 150,31.9 150.7,32 151.3,32.1 152,32.2 152.6,32.3 153.3,32.4 154,32.5 154.6,32.6 155.3,32.8 155.9,32.9 156.6,33.1 157.2,33.2 157.9,33.4 158.5,33.5 159.2,33.7 159.8,33.9 160.4,34 161.1,34.2 161.7,34.4 162.4,34.5 163,34.7 163.7,34.9 164.3,35 165,35.2 165.6,35.3 166.3,35.5 166.9,35.6 167.6,35.8 168.2,35.9 168.9,36.1 169.5,36.3 170.2,36.4 170.8,36.6 171.5,36.7 172.1,36.9 172.8,37.1 173.4,37.2 174.1,37.4 174.7,37.5 175.4,37.6 176,37.8 176.7,37.9 177.3,38 178,38.2 178.6,38.3 179.3,38.4 179.9,38.5 180.6,38.6 181.3,38.7 181.9,38.8 182.6,38.9 183.2,39 183.9,39.1 184.6,39.2 185.2,39.3 185.9,39.4 186.5,39.5 187.2,39.6 187.9,39.6 188.5,39.7 189.2,39.8 189.8,39.8 190.5,39.9 191.2,39.9 191.8,40 192.5,40.1 193.2,40.1 193.8,40.2 194.5,40.2 195.2,40.2 195.8,40.3 196.5,40.3 197.2,40.3 197.8,40.4 198.5,40.4" fill="none" stroke="#151515" stroke-width="0.5" /><polyline points="81.6,109 81.6,108.5 81.6,108 81.6,107.5 81.7,107 81.7,106.5 81.7,106 81.8,105.5 81.8,105 81.8,104.5 81.9,104 81.9,103.5 82,103 82.1,102.5 82.1,102 82.2,101.6 82.3,101.1 82.4,100.6 82.5,100.1 82.6,99.6 82.7,99.1 82.9,98.6 83,98.1 83.1,97.6 83.3,97.2 83.4,96.7 83.6,96.2 83.8,95.7 83.9,95.3 84.1,94.8 84.2,94.3 84.4,93.9 84.6,93.4 84.8,93 85,92.5 85.2,92.1 85.4,91.6 85.7,91.2 85.9,90.7 86.2,90.3 86.4,89.9 86.6,89.4 86.9,89 87.1,88.5 87.4,88.1 87.6,87.7 87.9,87.2 88.1,86.8 88.4,86.4 88.6,85.9 88.8,85.5 89.1,85 89.3,84.6 89.6,84.2 89.8,83.7 90.1,83.3 90.3,82.8 90.6,82.4 90.9,82 91.1,81.6 91.4,81.1 91.7,80.7 92,80.3 92.3,79.9 92.6,79.5 92.9,79.2 93.2,78.8 93.5,78.4 93.9,78.1 94.3,77.8 94.6,77.5 95,77.1 95.4,76.8 95.8,76.5 96.2,76.2 96.6,75.8 97,75.5 97.3,75.1 97.6,74.8 97.9,74.4 98.1,73.9 98.4,73.5 98.7,73.1 98.9,72.6 99.2,72.2 99.5,71.8 99.8,71.4 100.1,71 100.4,70.6 100.7,70.2 101,69.8 101.3,69.4 101.7,69.1 102,68.7 102.3,68.3 102.7,68 103,67.6 103.4,67.3 103.8,67 104.2,66.7 104.6,66.4 105,66.1 105.4,65.8 105.8,65.5 106.2,65.2 106.6,65 107.1,64.7 107.5,64.4 107.9,64.1 108.3,63.8 108.7,63.5 109.1,63.2 109.5,62.9 109.9,62.6 110.3,62.3 110.7,62 111.1,61.7 111.5,61.4 111.9,61.1 112.3,60.8 112.6,60.5 113,60.2 113.4,59.9 113.8,59.6 114.2,59.3 114.6,59 115,58.7 115.4,58.4 115.8,58.1 116.3,57.8 116.7,57.5 117.1,57.3 117.5,57 117.9,56.7 118.3,56.4 118.8,56.2 119.2,55.9 119.6,55.6 120,55.4 120.5,55.2 120.9,54.9 121.4,54.7 121.8,54.5 122.3,54.3 122.7,54.1 123.2,54 123.7,53.8 124.1,53.6 124.6,53.4 125.1,53.3 125.5,53.1 126,53 126.5,52.8 127,52.7 127.5,52.5 127.9,52.3 128.4,52.2 128.9,52 129.4,51.9 129.8,51.7 130.3,51.6 130.8,51.4 131.3,51.3 131.7,51.1 132.2,51 132.7,50.8 133.2,50.6 133.6,50.5 134.1,50.3 134.6,50.2 135.1,50 135.5,49.9 136,49.8 136.5,49.6 137,49.5 137.4,49.3 137.9,49.2 138.4,49 138.9,48.9 139.4,48.8 139.8,48.6 140.3,48.5 140.8,48.4 141.3,48.2 141.8,48.1 142.2,48 142.7,47.9 143.2,47.7 143.7,47.6 144.2,47.5 144.7,47.3 145.1,47.2 145.6,47.1 146.1,47 146.6,46.9 147.1,46.7 147.6,46.6 148.1,46.5 148.5,46.4 149,46.3 149.5,46.2 150,46.1 150.5,46 151,45.8 151.5,45.7 151.9,45.6 152.4,45.6 152.9,45.5 153.4,45.4 153.9,45.3 154.4,45.2 154.9,45.1 155.4,45 155.9,44.9 156.4,44.8 156.8,44.8 157.3,44.7 157.8,44.6 158.3,44.5 158.8,44.4 159.3,44.4 159.8,44.3 160.3,44.2 160.8,44.1 161.3,44.1 161.8,44 162.3,43.9 162.8,43.8 163.3,43.8 163.8,43.7 164.3,43.7 164.7,43.6 165.2,43.5 165.7,43.5 166.2,43.4 166.7,43.4 167.2,43.3 167.7,43.3 168.2,43.2 168.7,43.2 169.2,43.1 169.7,43.1 170.2,43 170.7,43 171.2,42.9 171.7,42.9 172.2,42.9 172.7,42.8 173.2,42.8 173.7,42.7 174.2,42.7 174.7,42.6 175.2,42.6 175.7,42.6 176.2,42.5 176.7,42.5 177.2,42.4 177.7,42.4 178.2,42.3 178.6,42.2 179.1,42.2 179.6,42.1 180.1,42.1 180.6,42 181.1,41.9 181.6,41.9 182.1,41.8 182.6,41.7 183.1,41.6 183.6,41.6 184.1,41.5 184.6,41.4 185.1,41.4 185.6,41.3 186.1,41.2 186.6,41.2 187.1,41.1 187.6,41.1 188,41 188.5,41 189,40.9 189.5,40.9 190,40.9 190.5,40.8 191,40.8 191.5,40.8 192,40.7 192.5,40.7 193,40.7 193.5,40.6 194,40.6 194.5,40.6 195,40.5 195.5,40.5 196,40.5 196.5,40.5 197,40.4 197.5,40.4 198,40.4 198.5,40.4" fill="none" stroke="#151515" stroke-width="0.55" /><polygon points="82,103 83,103.1 84,103.2 84.9,103.3 85.9,103.4 86.9,103.5 87.9,103.6 88.9,103.6 89.8,103.6 90.8,103.6 91.8,103.6 92.8,103.5 93.8,103.5 94.8,103.4 95.7,103.4 96.7,103.3 97.7,103.2 98.7,103.1 99.7,103 100.6,102.9 101.6,102.8 102.6,102.7 103.6,102.6 104.6,102.4 105.5,102.3 106.5,102.1 107.5,101.9 108.4,101.7 109.4,101.5 110.3,101.3 111.3,101.1 112.2,100.8 113.2,100.5 114.1,100.2 115,99.9 115.9,99.6 116.9,99.2 117.8,98.8 118.7,98.4 119.6,98 120,103.6 119.1,104 118.2,104.5 117.2,104.9 116.3,105.3 115.3,105.6 114.4,106 113.4,106.3 112.5,106.7 111.5,107 110.6,107.2 109.6,107.5 108.6,107.8 107.7,108 106.7,108.2 105.7,108.5 104.7,108.7 103.7,108.9 102.7,109 101.7,109.2 100.7,109.3 99.7,109.4 98.7,109.5 97.7,109.6 96.7,109.7 95.7,109.8 94.7,109.8 93.7,109.9 92.6,109.9 91.6,110 90.6,110 89.6,110 88.6,110 87.6,109.9 86.6,109.8 85.6,109.7 84.6,109.5 83.6,109.4 82.6,109.2 81.6,109" fill="#000080" stroke="#000080" stroke-width="0.3" /><polygon points="84,95 84.9,95.4 85.7,95.8 86.6,96.2 87.5,96.5 88.4,96.8 89.3,97 90.2,97 91.1,97 92,97 92.9,97 93.8,97 94.8,97 95.7,97 96.6,97 97.6,97 98.5,97 99.4,97 100.3,97 101.3,97 102.2,96.9 103.1,96.8 104,96.7 105,96.6 105.9,96.4 106.8,96.2 107.7,96.1 108.6,95.9 109.5,95.7 110.4,95.5 111.3,95.3 112.2,95 113,94.7 113.9,94.4 114.8,94.1 115.6,93.7 116.5,93.3 117.3,92.9 118.2,92.4 119,92 119.6,98 118.7,98.4 117.8,98.8 116.9,99.2 115.9,99.6 115,99.9 114.1,100.2 113.2,100.5 112.2,100.8 111.3,101.1 110.3,101.3 109.4,101.5 108.4,101.7 107.5,101.9 106.5,102.1 105.5,102.3 104.6,102.4 103.6,102.6 102.6,102.7 101.6,102.8 100.6,102.9 99.7,103 98.7,103.1 97.7,103.2 96.7,103.3 95.7,103.4 94.8,103.4 93.8,103.5 92.8,103.5 91.8,103.6 90.8,103.6 89.8,103.6 88.9,103.6 87.9,103.6 86.9,103.5 85.9,103.4 84.9,103.3 84,103.2 83,103.1 82,103" fill="#0000e6" stroke="#0000e6" stroke-width="0.3" /><polygon points="88,87 88.7,87.5 89.4,87.9 90.1,88.4 90.8,88.8 91.6,89.2 92.3,89.5 93.1,89.8 93.8,90 94.6,90.1 95.4,90.3 96.2,90.4 97,90.6 97.8,90.7 98.6,90.8 99.4,90.9 100.3,90.9 101.1,91 101.9,91 102.7,91 103.5,91 104.3,90.9 105.2,90.8 106,90.7 106.8,90.6 107.6,90.5 108.4,90.3 109.2,90.2 110,90 110.7,89.8 111.5,89.6 112.3,89.3 113,89 113.7,88.7 114.5,88.3 115.2,87.9 115.9,87.4 116.6,87 117.3,86.5 118,86 119,92 118.2,92.4 117.3,92.9 116.5,93.3 115.6,93.7 114.8,94.1 113.9,94.4 113,94.7 112.2,95 111.3,95.3 110.4,95.5 109.5,95.7 108.6,95.9 107.7,96.1 106.8,96.2 105.9,96.4 105,96.6 104,96.7 103.1,96.8 102.2,96.9 101.3,97 100.3,97 99.4,97 98.5,97 97.6,97 96.6,97 95.7,97 94.8,97 93.8,97 92.9,97 92,97 91.1,97 90.2,97 89.3,97 88.4,96.8 87.5,96.5 86.6,96.2 85.7,95.8 84.9,95.4 84,95" fill="#004dff" stroke="#004dff" stroke-width="0.3" /><polygon points="93,79 93.5,79.5 94,80.1 94.5,80.6 95,81 95.5,81.5 96,81.9 96.6,82.3 97.2,82.6 97.7,82.9 98.3,83.1 98.9,83.4 99.6,83.6 100.2,83.9 100.9,84.1 101.5,84.3 102.2,84.4 102.9,84.5 103.6,84.6 104.2,84.6 104.9,84.6 105.6,84.5 106.3,84.5 107,84.4 107.6,84.4 108.3,84.3 109,84.2 109.6,84.1 110.3,83.9 110.9,83.8 111.5,83.6 112.1,83.3 112.7,83 113.3,82.7 113.8,82.3 114.4,81.9 115,81.4 115.5,81 116.1,80.5 116.6,80 118,86 117.3,86.5 116.6,87 115.9,87.4 115.2,87.9 114.5,88.3 113.7,88.7 113,89 112.3,89.3 111.5,89.6 110.7,89.8 110,90 109.2,90.2 108.4,90.3 107.6,90.5 106.8,90.6 106,90.7 105.2,90.8 104.3,90.9 103.5,91 102.7,91 101.9,91 101.1,91 100.3,90.9 99.4,90.9 98.6,90.8 97.8,90.7 97,90.6 96.2,90.4 95.4,90.3 94.6,90.1 93.8,90 93.1,89.8 92.3,89.5 91.6,89.2 90.8,88.8 90.1,88.4 89.4,87.9 88.7,87.5 88,87" fill="#00b2ff" stroke="#00b2ff" stroke-width="0.3" /><polygon points="97,75 97.4,75.3 97.9,75.6 98.3,75.9 98.7,76.2 99.2,76.5 99.6,76.7 100.1,77 100.5,77.2 101,77.4 101.5,77.6 102,77.8 102.5,78 102.9,78.3 103.4,78.4 103.9,78.6 104.4,78.8 105,78.9 105.5,79 106,79 106.5,79 107,78.9 107.5,78.9 108,78.8 108.6,78.7 109.1,78.6 109.6,78.4 110.1,78.3 110.6,78.1 111,78 111.5,77.8 111.9,77.6 112.3,77.3 112.8,77 113.2,76.7 113.5,76.3 113.9,75.9 114.3,75.5 114.7,75 115,74.6 116.6,80 116.1,80.5 115.5,81 115,81.4 114.4,81.9 113.8,82.3 113.3,82.7 112.7,83 112.1,83.3 111.5,83.6 110.9,83.8 110.3,83.9 109.6,84.1 109,84.2 108.3,84.3 107.6,84.4 107,84.4 106.3,84.5 105.6,84.5 104.9,84.6 104.2,84.6 103.6,84.6 102.9,84.5 102.2,84.4 101.5,84.3 100.9,84.1 100.2,83.9 99.6,83.6 98.9,83.4 98.3,83.1 97.7,82.9 97.2,82.6 96.6,82.3 96,81.9 95.5,81.5 95,81 94.5,80.6 94,80.1 93.5,79.5 93,79" fill="#1affe5" stroke="#1affe5" stroke-width="0.3" /><polygon points="101.6,70 101.9,70.3 102.1,70.6 102.4,70.8 102.7,71.1 102.9,71.4 103.2,71.6 103.5,71.8 103.8,72 104.1,72.2 104.4,72.4 104.7,72.5 105,72.6 105.4,72.7 105.7,72.8 106.1,72.9 106.4,73 106.8,73.1 107.2,73.2 107.6,73.3 107.9,73.3 108.3,73.4 108.6,73.4 108.9,73.4 109.2,73.4 109.5,73.3 109.8,73.3 110.1,73.1 110.4,73 110.6,72.8 110.9,72.6 111.2,72.3 111.4,72 111.7,71.7 111.9,71.4 112.1,71 112.4,70.7 112.6,70.3 112.8,69.8 113,69.4 115,74.6 114.7,75 114.3,75.5 113.9,75.9 113.5,76.3 113.2,76.7 112.8,77 112.3,77.3 111.9,77.6 111.5,77.8 111,78 110.6,78.1 110.1,78.3 109.6,78.4 109.1,78.6 108.6,78.7 108,78.8 107.5,78.9 107,78.9 106.5,79 106,79 105.5,79 105,78.9 104.4,78.8 103.9,78.6 103.4,78.4 102.9,78.3 102.5,78 102,77.8 101.5,77.6 101,77.4 100.5,77.2 100.1,77 99.6,76.7 99.2,76.5 98.7,76.2 98.3,75.9 97.9,75.6 97.4,75.3 97,75" fill="#80ff80" stroke="#80ff80" stroke-width="0.3" /><polygon points="105,66.3 105.2,66.5 105.4,66.7 105.5,66.9 105.7,67.1 105.9,67.3 106.1,67.4 106.3,67.6 106.4,67.7 106.6,67.8 106.8,67.9 107,68 107.1,68.1 107.3,68.2 107.5,68.2 107.6,68.3 107.8,68.3 108,68.3 108.1,68.3 108.3,68.3 108.5,68.2 108.6,68.2 108.8,68.2 109,68.1 109.1,68 109.3,67.9 109.5,67.8 109.6,67.7 109.8,67.6 109.9,67.4 110.1,67.3 110.3,67.1 110.4,66.9 110.6,66.7 110.7,66.5 110.9,66.3 111,66.1 111.2,65.8 111.3,65.6 111.5,65.3 113,69.4 112.8,69.8 112.6,70.3 112.4,70.7 112.1,71 111.9,71.4 111.7,71.7 111.4,72 111.2,72.3 110.9,72.6 110.6,72.8 110.4,73 110.1,73.1 109.8,73.3 109.5,73.3 109.2,73.4 108.9,73.4 108.6,73.4 108.3,73.4 107.9,73.3 107.6,73.3 107.2,73.2 106.8,73.1 106.4,73 106.1,72.9 105.7,72.8 105.4,72.7 105,72.6 104.7,72.5 104.4,72.4 104.1,72.2 103.8,72 103.5,71.8 103.2,71.6 102.9,71.4 102.7,71.1 102.4,70.8 102.1,70.6 101.9,70.3 101.6,70" fill="#e5ff1a" stroke="#e5ff1a" stroke-width="0.3" /><polygon points="109.5,62.8 109.6,62.9 109.7,62.9 109.8,63 109.9,63 109.9,63.1 110,63.1 110.1,63.1 110.2,63.1 110.3,63.2 110.3,63.2 110.4,63.2 110.5,63.2 110.5,63.2 110.6,63.2 110.6,63.2 110.7,63.2 110.7,63.2 110.8,63.1 110.8,63.1 110.9,63.1 110.9,63 111,63 111,62.9 111.1,62.8 111.1,62.8 111.2,62.7 111.2,62.6 111.3,62.6 111.3,62.5 111.3,62.4 111.4,62.3 111.4,62.2 111.4,62.1 111.5,61.9 111.5,61.8 111.5,61.7 111.6,61.6 111.6,61.4 111.6,61.3 111.5,65.3 111.3,65.6 111.2,65.8 111,66.1 110.9,66.3 110.7,66.5 110.6,66.7 110.4,66.9 110.3,67.1 110.1,67.3 109.9,67.4 109.8,67.6 109.6,67.7 109.5,67.8 109.3,67.9 109.1,68 109,68.1 108.8,68.2 108.6,68.2 108.5,68.2 108.3,68.3 108.1,68.3 108,68.3 107.8,68.3 107.6,68.3 107.5,68.2 107.3,68.2 107.1,68.1 107,68 106.8,67.9 106.6,67.8 106.4,67.7 106.3,67.6 106.1,67.4 105.9,67.3 105.7,67.1 105.5,66.9 105.4,66.7 105.2,66.5 105,66.3" fill="#e5ff1a" stroke="#e5ff1a" stroke-width="0.3" /><polyline points="81.6,109 82.6,109.2 83.6,109.4 84.6,109.5 85.6,109.7 86.6,109.8 87.6,109.9 88.6,110 89.6,110 90.6,110 91.6,110 92.6,109.9 93.7,109.9 94.7,109.8 95.7,109.8 96.7,109.7 97.7,109.6 98.7,109.5 99.7,109.4 100.7,109.3 101.7,109.2 102.7,109 103.7,108.9 104.7,108.7 105.7,108.5 106.7,108.2 107.7,108 108.6,107.8 109.6,107.5 110.6,107.2 111.5,107 112.5,106.7 113.4,106.3 114.4,106 115.3,105.6 116.3,105.3 117.2,104.9 118.2,104.5 119.1,104 120,103.6" fill="none" stroke="#151515" stroke-width="0.45" /><polyline points="82,103 83,103.1 84,103.2 84.9,103.3 85.9,103.4 86.9,103.5 87.9,103.6 88.9,103.6 89.8,103.6 90.8,103.6 91.8,103.6 92.8,103.5 93.8,103.5 94.8,103.4 95.7,103.4 96.7,103.3 97.7,103.2 98.7,103.1 99.7,103 100.6,102.9 101.6,102.8 102.6,102.7 103.6,102.6 104.6,102.4 105.5,102.3 106.5,102.1 107.5,101.9 108.4,101.7 109.4,101.5 110.3,101.3 111.3,101.1 112.2,100.8 113.2,100.5 114.1,100.2 115,99.9 115.9,99.6 116.9,99.2 117.8,98.8 118.7,98.4 119.6,98" fill="none" stroke="#151515" stroke-width="0.45" /><polyline points="84,95 84.9,95.4 85.7,95.8 86.6,96.2 87.5,96.5 88.4,96.8 89.3,97 90.2,97 91.1,97 92,97 92.9,97 93.8,97 94.8,97 95.7,97 96.6,97 97.6,97 98.5,97 99.4,97 100.3,97 101.3,97 102.2,96.9 103.1,96.8 104,96.7 105,96.6 105.9,96.4 106.8,96.2 107.7,96.1 108.6,95.9 109.5,95.7 110.4,95.5 111.3,95.3 112.2,95 113,94.7 113.9,94.4 114.8,94.1 115.6,93.7 116.5,93.3 117.3,92.9 118.2,92.4 119,92" fill="none" stroke="#151515" stroke-width="0.45" /><polyline points="88,87 88.7,87.5 89.4,87.9 90.1,88.4 90.8,88.8 91.6,89.2 92.3,89.5 93.1,89.8 93.8,90 94.6,90.1 95.4,90.3 96.2,90.4 97,90.6 97.8,90.7 98.6,90.8 99.4,90.9 100.3,90.9 101.1,91 101.9,91 102.7,91 103.5,91 104.3,90.9 105.2,90.8 106,90.7 106.8,90.6 107.6,90.5 108.4,90.3 109.2,90.2 110,90 110.7,89.8 111.5,89.6 112.3,89.3 113,89 113.7,88.7 114.5,88.3 115.2,87.9 115.9,87.4 116.6,87 117.3,86.5 118,86" fill="none" stroke="#151515" stroke-width="0.45" /><polyline points="93,79 93.5,79.5 94,80.1 94.5,80.6 95,81 95.5,81.5 96,81.9 96.6,82.3 97.2,82.6 97.7,82.9 98.3,83.1 98.9,83.4 99.6,83.6 100.2,83.9 100.9,84.1 101.5,84.3 102.2,84.4 102.9,84.5 103.6,84.6 104.2,84.6 104.9,84.6 105.6,84.5 106.3,84.5 107,84.4 107.6,84.4 108.3,84.3 109,84.2 109.6,84.1 110.3,83.9 110.9,83.8 111.5,83.6 112.1,83.3 112.7,83 113.3,82.7 113.8,82.3 114.4,81.9 115,81.4 115.5,81 116.1,80.5 116.6,80" fill="none" stroke="#151515" stroke-width="0.45" /><polyline points="97,75 97.4,75.3 97.9,75.6 98.3,75.9 98.7,76.2 99.2,76.5 99.6,76.7 100.1,77 100.5,77.2 101,77.4 101.5,77.6 102,77.8 102.5,78 102.9,78.3 103.4,78.4 103.9,78.6 104.4,78.8 105,78.9 105.5,79 106,79 106.5,79 107,78.9 107.5,78.9 108,78.8 108.6,78.7 109.1,78.6 109.6,78.4 110.1,78.3 110.6,78.1 111,78 111.5,77.8 111.9,77.6 112.3,77.3 112.8,77 113.2,76.7 113.5,76.3 113.9,75.9 114.3,75.5 114.7,75 115,74.6" fill="none" stroke="#151515" stroke-width="0.45" /><polyline points="101.6,70 101.9,70.3 102.1,70.6 102.4,70.8 102.7,71.1 102.9,71.4 103.2,71.6 103.5,71.8 103.8,72 104.1,72.2 104.4,72.4 104.7,72.5 105,72.6 105.4,72.7 105.7,72.8 106.1,72.9 106.4,73 106.8,73.1 107.2,73.2 107.6,73.3 107.9,73.3 108.3,73.4 108.6,73.4 108.9,73.4 109.2,73.4 109.5,73.3 109.8,73.3 110.1,73.1 110.4,73 110.6,72.8 110.9,72.6 111.2,72.3 111.4,72 111.7,71.7 111.9,71.4 112.1,71 112.4,70.7 112.6,70.3 112.8,69.8 113,69.4" fill="none" stroke="#151515" stroke-width="0.45" /><polyline points="105,66.3 105.2,66.5 105.4,66.7 105.5,66.9 105.7,67.1 105.9,67.3 106.1,67.4 106.3,67.6 106.4,67.7 106.6,67.8 106.8,67.9 107,68 107.1,68.1 107.3,68.2 107.5,68.2 107.6,68.3 107.8,68.3 108,68.3 108.1,68.3 108.3,68.3 108.5,68.2 108.6,68.2 108.8,68.2 109,68.1 109.1,68 109.3,67.9 109.5,67.8 109.6,67.7 109.8,67.6 109.9,67.4 110.1,67.3 110.3,67.1 110.4,66.9 110.6,66.7 110.7,66.5 110.9,66.3 111,66.1 111.2,65.8 111.3,65.6 111.5,65.3" fill="none" stroke="#151515" stroke-width="0.3" /><polyline points="81.6,109 82,103 84,95 88,87 93,79 97,75 101.6,70 105,66.3" fill="none" stroke="#151515" stroke-width="0.45" /><polyline points="105,66.3 109.5,62.8" fill="none" stroke="#151515" stroke-width="0.3" /><polyline points="86.7,109.8 87,103.5 88.3,96.8 91.5,89.1 95.4,81.4 99.2,76.5 102.9,71.3 105.7,67.1" fill="none" stroke="#151515" stroke-width="0.45" /><polyline points="91,110 91.2,103.6 92.3,97 94.9,90.2 97.9,83 101.2,77.5 104.2,72.2 106.5,67.7" fill="none" stroke="#151515" stroke-width="0.45" /><polyline points="95.3,109.8 95.4,103.4 96.3,97 98.4,90.8 100.7,84 103.3,78.4 105.7,72.8 107.3,68.2" fill="none" stroke="#151515" stroke-width="0.45" /><polyline points="107.3,68.2 110.6,63.2" fill="none" stroke="#151515" stroke-width="0.3" /><polyline points="100.4,109.4 100.4,103 101,97 102.5,91 104,84.6 105.8,79 107.5,73.2 108.4,68.3" fill="none" stroke="#151515" stroke-width="0.45" /><polyline points="108.5,107.8 108.3,101.8 108.5,95.9 109.1,90.2 109.6,84.1 110,78.3 110.4,72.9 109.9,67.4" fill="none" stroke="#151515" stroke-width="0.45" /><polyline points="120,103.6 119.6,98 119,92 118,86 116.6,80 115,74.6 113,69.4 111.5,65.3" fill="none" stroke="#151515" stroke-width="0.45" /><polyline points="111.5,65.3 111.6,61.3" fill="none" stroke="#151515" stroke-width="0.3" /></g>
<text x="31.2" y="17.6" font-family="'Liberation Sans', Arial, sans-serif" font-size="4.2" text-anchor="start" fill="#222" >×10<tspan dy='-1.4' font-size='3'>-3</tspan></text>
<text x="28" y="30.1" font-family="'Liberation Sans', Arial, sans-serif" font-size="4.6" text-anchor="end" fill="#222" >5</text>
<text x="28" y="44.2" font-family="'Liberation Sans', Arial, sans-serif" font-size="4.6" text-anchor="end" fill="#222" >4</text>
<text x="28" y="58.3" font-family="'Liberation Sans', Arial, sans-serif" font-size="4.6" text-anchor="end" fill="#222" >3</text>
<text x="28" y="72.4" font-family="'Liberation Sans', Arial, sans-serif" font-size="4.6" text-anchor="end" fill="#222" >2</text>
<text x="28" y="86.5" font-family="'Liberation Sans', Arial, sans-serif" font-size="4.6" text-anchor="end" fill="#222" >1</text>
<text x="28" y="100.6" font-family="'Liberation Sans', Arial, sans-serif" font-size="4.6" text-anchor="end" fill="#222" >0</text>
<text x="22.3" y="65.6" font-family="'Liberation Sans', Arial, sans-serif" font-size="5.6" text-anchor="middle" fill="#222" transform="rotate(-90 22.3 65.6)" >Reactor radius (m)</text>
<text x="33.2" y="104.9" font-family="'Liberation Sans', Arial, sans-serif" font-size="4.4" text-anchor="middle" fill="#222" >1.25</text>
<text x="39" y="111.5" font-family="'Liberation Sans', Arial, sans-serif" font-size="4.4" text-anchor="middle" fill="#222" >1.2</text>
<text x="48.8" y="117.1" font-family="'Liberation Sans', Arial, sans-serif" font-size="4.4" text-anchor="middle" fill="#222" >1.15</text>
<text x="62" y="122.2" font-family="'Liberation Sans', Arial, sans-serif" font-size="4.4" text-anchor="middle" fill="#222" >1.1</text>
<text x="73.4" y="128.5" font-family="'Liberation Sans', Arial, sans-serif" font-size="4.4" text-anchor="middle" fill="#222" >1.05</text>
<text x="89" y="134.5" font-family="'Liberation Sans', Arial, sans-serif" font-size="4.4" text-anchor="middle" fill="#222" >1</text>
<text x="99.4" y="141.8" font-family="'Liberation Sans', Arial, sans-serif" font-size="4.4" text-anchor="middle" fill="#222" >0.95</text>
<text x="53" y="144" font-family="'Liberation Sans', Arial, sans-serif" font-size="5.4" text-anchor="middle" fill="#222" >Effectiveness factor</text>
<text x="112.7" y="141.8" font-family="'Liberation Sans', Arial, sans-serif" font-size="4.4" text-anchor="middle" fill="#222" >0.1</text>
<text x="127.5" y="138.8" font-family="'Liberation Sans', Arial, sans-serif" font-size="4.4" text-anchor="middle" fill="#222" >0.2</text>
<text x="141.5" y="135.7" font-family="'Liberation Sans', Arial, sans-serif" font-size="4.4" text-anchor="middle" fill="#222" >0.3</text>
<text x="156.5" y="132.5" font-family="'Liberation Sans', Arial, sans-serif" font-size="4.4" text-anchor="middle" fill="#222" >0.4</text>
<text x="170.7" y="129.8" font-family="'Liberation Sans', Arial, sans-serif" font-size="4.4" text-anchor="middle" fill="#222" >0.5</text>
<text x="185.2" y="126.5" font-family="'Liberation Sans', Arial, sans-serif" font-size="4.4" text-anchor="middle" fill="#222" >0.6</text>
<text x="199.7" y="123.5" font-family="'Liberation Sans', Arial, sans-serif" font-size="4.4" text-anchor="middle" fill="#222" >0.7</text>
<text x="213.2" y="120.9" font-family="'Liberation Sans', Arial, sans-serif" font-size="4.4" text-anchor="middle" fill="#222" >0.8</text>
<text x="226.5" y="117.9" font-family="'Liberation Sans', Arial, sans-serif" font-size="4.4" text-anchor="middle" fill="#222" >0.9</text>
<text x="172" y="146.8" font-family="'Liberation Sans', Arial, sans-serif" font-size="5.4" text-anchor="middle" fill="#222" >Thiele modulus</text>
<text x="125" y="160.8" font-family="'Liberation Serif', 'DejaVu Serif', serif" font-size="11" text-anchor="middle" fill="#111" >(<tspan font-weight='bold'>a</tspan>)</text>
</g>
<g id='plot_b'>
<g><line x1="341.2" y1="124" x2="341.2" y2="33.5" stroke="#cfcfcf" stroke-width="0.5" stroke-dasharray="0.7 0.35"/><line x1="348.1" y1="118.1" x2="348.1" y2="27.6" stroke="#cfcfcf" stroke-width="0.5" stroke-dasharray="0.7 0.35"/><line x1="355" y1="112.2" x2="355" y2="21.7" stroke="#cfcfcf" stroke-width="0.5" stroke-dasharray="0.7 0.35"/><line x1="361.9" y1="106.3" x2="361.9" y2="15.8" stroke="#cfcfcf" stroke-width="0.5" stroke-dasharray="0.7 0.35"/><line x1="368.8" y1="100.4" x2="368.8" y2="9.9" stroke="#cfcfcf" stroke-width="0.5" stroke-dasharray="0.7 0.35"/><line x1="375.7" y1="94.5" x2="375.7" y2="4" stroke="#cfcfcf" stroke-width="0.5" stroke-dasharray="0.7 0.35"/><line x1="341.2" y1="124" x2="375.7" y2="94.5" stroke="#cfcfcf" stroke-width="0.5" stroke-dasharray="0.7 0.35"/><line x1="341.2" y1="113.9" x2="375.7" y2="84.4" stroke="#cfcfcf" stroke-width="0.5" stroke-dasharray="0.7 0.35"/><line x1="341.2" y1="103.9" x2="375.7" y2="74.4" stroke="#cfcfcf" stroke-width="0.5" stroke-dasharray="0.7 0.35"/><line x1="341.2" y1="93.8" x2="375.7" y2="64.3" stroke="#cfcfcf" stroke-width="0.5" stroke-dasharray="0.7 0.35"/><line x1="341.2" y1="83.8" x2="375.7" y2="54.3" stroke="#cfcfcf" stroke-width="0.5" stroke-dasharray="0.7 0.35"/><line x1="341.2" y1="73.7" x2="375.7" y2="44.2" stroke="#cfcfcf" stroke-width="0.5" stroke-dasharray="0.7 0.35"/><line x1="341.2" y1="63.7" x2="375.7" y2="34.2" stroke="#cfcfcf" stroke-width="0.5" stroke-dasharray="0.7 0.35"/><line x1="341.2" y1="53.6" x2="375.7" y2="24.1" stroke="#cfcfcf" stroke-width="0.5" stroke-dasharray="0.7 0.35"/><line x1="341.2" y1="43.6" x2="375.7" y2="14.1" stroke="#cfcfcf" stroke-width="0.5" stroke-dasharray="0.7 0.35"/><line x1="341.2" y1="33.5" x2="375.7" y2="4" stroke="#cfcfcf" stroke-width="0.5" stroke-dasharray="0.7 0.35"/><line x1="375.7" y1="94.5" x2="375.7" y2="4" stroke="#cfcfcf" stroke-width="0.5" stroke-dasharray="0.7 0.35"/><line x1="402.1" y1="96.1" x2="402.1" y2="5.6" stroke="#cfcfcf" stroke-width="0.5" stroke-dasharray="0.7 0.35"/><line x1="428.5" y1="97.7" x2="428.5" y2="7.2" stroke="#cfcfcf" stroke-width="0.5" stroke-dasharray="0.7 0.35"/><line x1="454.9" y1="99.3" x2="454.9" y2="8.8" stroke="#cfcfcf" stroke-width="0.5" stroke-dasharray="0.7 0.35"/><line x1="481.3" y1="100.9" x2="481.3" y2="10.4" stroke="#cfcfcf" stroke-width="0.5" stroke-dasharray="0.7 0.35"/><line x1="507.7" y1="102.5" x2="507.7" y2="12" stroke="#cfcfcf" stroke-width="0.5" stroke-dasharray="0.7 0.35"/><line x1="375.7" y1="94.5" x2="507.7" y2="102.5" stroke="#cfcfcf" stroke-width="0.5" stroke-dasharray="0.7 0.35"/><line x1="375.7" y1="84.4" x2="507.7" y2="92.4" stroke="#cfcfcf" stroke-width="0.5" stroke-dasharray="0.7 0.35"/><line x1="375.7" y1="74.4" x2="507.7" y2="82.4" stroke="#cfcfcf" stroke-width="0.5" stroke-dasharray="0.7 0.35"/><line x1="375.7" y1="64.3" x2="507.7" y2="72.3" stroke="#cfcfcf" stroke-width="0.5" stroke-dasharray="0.7 0.35"/><line x1="375.7" y1="54.3" x2="507.7" y2="62.3" stroke="#cfcfcf" stroke-width="0.5" stroke-dasharray="0.7 0.35"/><line x1="375.7" y1="44.2" x2="507.7" y2="52.2" stroke="#cfcfcf" stroke-width="0.5" stroke-dasharray="0.7 0.35"/><line x1="375.7" y1="34.2" x2="507.7" y2="42.2" stroke="#cfcfcf" stroke-width="0.5" stroke-dasharray="0.7 0.35"/><line x1="375.7" y1="24.1" x2="507.7" y2="32.1" stroke="#cfcfcf" stroke-width="0.5" stroke-dasharray="0.7 0.35"/><line x1="375.7" y1="14.1" x2="507.7" y2="22.1" stroke="#cfcfcf" stroke-width="0.5" stroke-dasharray="0.7 0.35"/><line x1="375.7" y1="4" x2="507.7" y2="12" stroke="#cfcfcf" stroke-width="0.5" stroke-dasharray="0.7 0.35"/><line x1="341.2" y1="124" x2="473.2" y2="132" stroke="#cfcfcf" stroke-width="0.5" stroke-dasharray="0.7 0.35"/><line x1="348.1" y1="118.1" x2="480.1" y2="126.1" stroke="#cfcfcf" stroke-width="0.5" stroke-dasharray="0.7 0.35"/><line x1="355" y1="112.2" x2="487" y2="120.2" stroke="#cfcfcf" stroke-width="0.5" stroke-dasharray="0.7 0.35"/><line x1="361.9" y1="106.3" x2="493.9" y2="114.3" stroke="#cfcfcf" stroke-width="0.5" stroke-dasharray="0.7 0.35"/><line x1="368.8" y1="100.4" x2="500.8" y2="108.4" stroke="#cfcfcf" stroke-width="0.5" stroke-dasharray="0.7 0.35"/><line x1="375.7" y1="94.5" x2="507.7" y2="102.5" stroke="#cfcfcf" stroke-width="0.5" stroke-dasharray="0.7 0.35"/><line x1="341.2" y1="124" x2="375.7" y2="94.5" stroke="#cfcfcf" stroke-width="0.5" stroke-dasharray="0.7 0.35"/><line x1="367.6" y1="125.6" x2="402.1" y2="96.1" stroke="#cfcfcf" stroke-width="0.5" stroke-dasharray="0.7 0.35"/><line x1="394" y1="127.2" x2="428.5" y2="97.7" stroke="#cfcfcf" stroke-width="0.5" stroke-dasharray="0.7 0.35"/><line x1="420.4" y1="128.8" x2="454.9" y2="99.3" stroke="#cfcfcf" stroke-width="0.5" stroke-dasharray="0.7 0.35"/><line x1="446.8" y1="130.4" x2="481.3" y2="100.9" stroke="#cfcfcf" stroke-width="0.5" stroke-dasharray="0.7 0.35"/><line x1="473.2" y1="132" x2="507.7" y2="102.5" stroke="#cfcfcf" stroke-width="0.5" stroke-dasharray="0.7 0.35"/></g>
<line x1="341.2" y1="124" x2="341.2" y2="33.5" stroke="#333" stroke-width="0.5" />
<line x1="341.2" y1="124" x2="473.2" y2="132" stroke="#333" stroke-width="0.5" />
<line x1="473.2" y1="132" x2="507.7" y2="102.5" stroke="#333" stroke-width="0.5" />
<line x1="341.2" y1="124" x2="339.9" y2="124" stroke="#333" stroke-width="0.4" />
<line x1="341.2" y1="113.9" x2="339.9" y2="113.9" stroke="#333" stroke-width="0.4" />
<line x1="341.2" y1="103.9" x2="339.9" y2="103.9" stroke="#333" stroke-width="0.4" />
<line x1="341.2" y1="93.8" x2="339.9" y2="93.8" stroke="#333" stroke-width="0.4" />
<line x1="341.2" y1="83.8" x2="339.9" y2="83.8" stroke="#333" stroke-width="0.4" />
<line x1="341.2" y1="73.7" x2="339.9" y2="73.7" stroke="#333" stroke-width="0.4" />
<line x1="341.2" y1="63.7" x2="339.9" y2="63.7" stroke="#333" stroke-width="0.4" />
<line x1="341.2" y1="53.6" x2="339.9" y2="53.6" stroke="#333" stroke-width="0.4" />
<line x1="341.2" y1="43.6" x2="339.9" y2="43.6" stroke="#333" stroke-width="0.4" />
<line x1="341.2" y1="33.5" x2="339.9" y2="33.5" stroke="#333" stroke-width="0.4" />
<line x1="341.2" y1="124" x2="340.4" y2="125.1" stroke="#333" stroke-width="0.4" />
<line x1="367.6" y1="125.6" x2="366.8" y2="126.7" stroke="#333" stroke-width="0.4" />
<line x1="394" y1="127.2" x2="393.2" y2="128.3" stroke="#333" stroke-width="0.4" />
<line x1="420.4" y1="128.8" x2="419.6" y2="129.9" stroke="#333" stroke-width="0.4" />
<line x1="446.8" y1="130.4" x2="446" y2="131.5" stroke="#333" stroke-width="0.4" />
<line x1="473.2" y1="132" x2="472.4" y2="133.1" stroke="#333" stroke-width="0.4" />
<line x1="473.2" y1="132" x2="474.4" y2="132.3" stroke="#333" stroke-width="0.4" />
<line x1="480.1" y1="126.1" x2="481.3" y2="126.4" stroke="#333" stroke-width="0.4" />
<line x1="487" y1="120.2" x2="488.2" y2="120.5" stroke="#333" stroke-width="0.4" />
<line x1="493.9" y1="114.3" x2="495.1" y2="114.6" stroke="#333" stroke-width="0.4" />
<line x1="500.8" y1="108.4" x2="502" y2="108.7" stroke="#333" stroke-width="0.4" />
<line x1="507.7" y1="102.5" x2="508.9" y2="102.8" stroke="#333" stroke-width="0.4" />
<g stroke-linejoin='round'><polygon points="372.9,24.5 379.1,26.8 378.9,27.3 372.6,24.9" fill="#b80000" stroke="#b80000" stroke-width="0.25" /><polygon points="372.6,24.9 378.9,27.3 378.6,27.9 372.2,25.4" fill="#bb0000" stroke="#bb0000" stroke-width="0.25" /><polygon points="372.2,25.4 378.6,27.9 378.3,28.7 371.6,26.2" fill="#bf0000" stroke="#bf0000" stroke-width="0.25" /><polygon points="371.6,26.2 378.3,28.7 377.7,30.1 370.5,27.5" fill="#c60000" stroke="#c60000" stroke-width="0.25" /><polygon points="370.5,27.5 377.7,30.1 376.2,33.9 368.3,31.4" fill="#d10000" stroke="#d10000" stroke-width="0.25" /><polygon points="368.3,31.4 376.2,33.9 373.7,40.5 366.1,38.7" fill="#ff3600" stroke="#ff3600" stroke-width="0.25" /><polygon points="366.1,38.7 373.7,40.5 371,48.3 364,46.9" fill="#ff7300" stroke="#ff7300" stroke-width="0.25" /><polygon points="364,46.9 371,48.3 368.1,57.5 361.8,58.4" fill="#ffbd00" stroke="#ffbd00" stroke-width="0.25" /><polygon points="361.8,58.4 368.1,57.5 364.2,72.6 358.6,79.5" fill="#d7ff28" stroke="#d7ff28" stroke-width="0.25" /><polygon points="358.6,79.5 364.2,72.6 362,83 351,117" fill="#05fffa" stroke="#05fffa" stroke-width="0.25" /><polygon points="379.1,26.8 385.6,31 385.3,31.6 378.9,27.3" fill="#b80000" stroke="#b80000" stroke-width="0.25" /><polygon points="378.9,27.3 385.3,31.6 384.9,32.2 378.6,27.9" fill="#bb0000" stroke="#bb0000" stroke-width="0.25" /><polygon points="378.6,27.9 384.9,32.2 384.4,33.1 378.3,28.7" fill="#bf0000" stroke="#bf0000" stroke-width="0.25" /><polygon points="378.3,28.7 384.4,33.1 383.7,34.3 377.7,30.1" fill="#c60000" stroke="#c60000" stroke-width="0.25" /><polygon points="377.7,30.1 383.7,34.3 382.2,37 376.2,33.9" fill="#d10000" stroke="#d10000" stroke-width="0.25" /><polygon points="376.2,33.9 382.2,37 380.1,40.9 373.7,40.5" fill="#ff3600" stroke="#ff3600" stroke-width="0.25" /><polygon points="373.7,40.5 380.1,40.9 377.9,45.5 371,48.3" fill="#ff7300" stroke="#ff7300" stroke-width="0.25" /><polygon points="371,48.3 377.9,45.5 375.5,50.8 368.1,57.5" fill="#ffbd00" stroke="#ffbd00" stroke-width="0.25" /><polygon points="368.1,57.5 375.5,50.8 372.8,57.2 364.2,72.6" fill="#d7ff28" stroke="#d7ff28" stroke-width="0.25" /><polygon points="364.2,72.6 372.8,57.2 371,62 362,83" fill="#05fffa" stroke="#05fffa" stroke-width="0.25" /><polygon points="385.6,31 392.2,35.5 391.8,35.8 385.3,31.6" fill="#de0000" stroke="#de0000" stroke-width="0.25" /><polygon points="385.3,31.6 391.8,35.8 391.4,36.3 384.9,32.2" fill="#e90000" stroke="#e90000" stroke-width="0.25" /><polygon points="384.9,32.2 391.4,36.3 390.8,36.9 384.4,33.1" fill="#f60000" stroke="#f60000" stroke-width="0.25" /><polygon points="384.4,33.1 390.8,36.9 390.1,37.6 383.7,34.3" fill="#ff0b00" stroke="#ff0b00" stroke-width="0.25" /><polygon points="383.7,34.3 390.1,37.6 389.1,38.6 382.2,37" fill="#ff2900" stroke="#ff2900" stroke-width="0.25" /><polygon points="382.2,37 389.1,38.6 387.8,39.9 380.1,40.9" fill="#ff4c00" stroke="#ff4c00" stroke-width="0.25" /><polygon points="380.1,40.9 387.8,39.9 386.2,41.6 377.9,45.5" fill="#ff7900" stroke="#ff7900" stroke-width="0.25" /><polygon points="377.9,45.5 386.2,41.6 384.5,43.5 375.5,50.8" fill="#ffb100" stroke="#ffb100" stroke-width="0.25" /><polygon points="375.5,50.8 384.5,43.5 382.5,45.8 372.8,57.2" fill="#fffd00" stroke="#fffd00" stroke-width="0.25" /><polygon points="372.8,57.2 382.5,45.8 381,47.5 371,62" fill="#75ff8a" stroke="#75ff8a" stroke-width="0.25" /><polygon points="392.2,35.5 400.4,31.4 400.2,31.7 391.8,35.8" fill="#ff1a00" stroke="#ff1a00" stroke-width="0.25" /><polygon points="391.8,35.8 400.2,31.7 399.9,32.2 391.4,36.3" fill="#ff1c00" stroke="#ff1c00" stroke-width="0.25" /><polygon points="391.4,36.3 399.9,32.2 399.5,32.9 390.8,36.9" fill="#ff2100" stroke="#ff2100" stroke-width="0.25" /><polygon points="390.8,36.9 399.5,32.9 398.9,33.7 390.1,37.6" fill="#ff2600" stroke="#ff2600" stroke-width="0.25" /><polygon points="390.1,37.6 398.9,33.7 398.3,34.7 389.1,38.6" fill="#ff2e00" stroke="#ff2e00" stroke-width="0.25" /><polygon points="389.1,38.6 398.3,34.7 397.6,35.9 387.8,39.9" fill="#ff3b00" stroke="#ff3b00" stroke-width="0.25" /><polygon points="387.8,39.9 397.6,35.9 396.9,37.1 386.2,41.6" fill="#ff4f00" stroke="#ff4f00" stroke-width="0.25" /><polygon points="386.2,41.6 396.9,37.1 396,38.4 384.5,43.5" fill="#ff6800" stroke="#ff6800" stroke-width="0.25" /><polygon points="384.5,43.5 396,38.4 395,40 382.5,45.8" fill="#ff8800" stroke="#ff8800" stroke-width="0.25" /><polygon points="382.5,45.8 395,40 393.8,42 381,47.5" fill="#ffbd00" stroke="#ffbd00" stroke-width="0.25" /><polygon points="400.4,31.4 408.6,29.4 408.6,29.8 400.2,31.7" fill="#d40000" stroke="#d40000" stroke-width="0.25" /><polygon points="400.2,31.7 408.6,29.8 408.7,30.4 399.9,32.2" fill="#dc0000" stroke="#dc0000" stroke-width="0.25" /><polygon points="399.9,32.2 408.7,30.4 408.8,31.2 399.5,32.9" fill="#eb0000" stroke="#eb0000" stroke-width="0.25" /><polygon points="399.5,32.9 408.8,31.2 409,32.2 398.9,33.7" fill="#f30000" stroke="#f30000" stroke-width="0.25" /><polygon points="398.9,33.7 409,32.2 409.1,33.4 398.3,34.7" fill="#fb0000" stroke="#fb0000" stroke-width="0.25" /><polygon points="398.3,34.7 409.1,33.4 409.3,34.7 397.6,35.9" fill="#ff0500" stroke="#ff0500" stroke-width="0.25" /><polygon points="397.6,35.9 409.3,34.7 409.5,36.1 396.9,37.1" fill="#ff0f00" stroke="#ff0f00" stroke-width="0.25" /><polygon points="396.9,37.1 409.5,36.1 409.7,37.6 396,38.4" fill="#ff1a00" stroke="#ff1a00" stroke-width="0.25" /><polygon points="396,38.4 409.7,37.6 409.9,39.4 395,40" fill="#ff2600" stroke="#ff2600" stroke-width="0.25" /><polygon points="395,40 409.9,39.4 410.2,41.5 393.8,42" fill="#ff3500" stroke="#ff3500" stroke-width="0.25" /><polygon points="408.6,29.4 420,26.5 420,26.7 408.6,29.8" fill="#8b0000" stroke="#8b0000" stroke-width="0.25" /><polygon points="408.6,29.8 420,26.7 420,27.2 408.7,30.4" fill="#930000" stroke="#930000" stroke-width="0.25" /><polygon points="408.7,30.4 420,27.2 420,27.8 408.8,31.2" fill="#a10000" stroke="#a10000" stroke-width="0.25" /><polygon points="408.8,31.2 420,27.8 420,28.5 409,32.2" fill="#b30000" stroke="#b30000" stroke-width="0.25" /><polygon points="409,32.2 420,28.5 420,29.3 409.1,33.4" fill="#c80000" stroke="#c80000" stroke-width="0.25" /><polygon points="409.1,33.4 420,29.3 420,30.1 409.3,34.7" fill="#e10000" stroke="#e10000" stroke-width="0.25" /><polygon points="409.3,34.7 420,30.1 420,31.1 409.5,36.1" fill="#ec0000" stroke="#ec0000" stroke-width="0.25" /><polygon points="409.5,36.1 420,31.1 420,32.2 409.7,37.6" fill="#f60000" stroke="#f60000" stroke-width="0.25" /><polygon points="409.7,37.6 420,32.2 420,33.3 409.9,39.4" fill="#ff0200" stroke="#ff0200" stroke-width="0.25" /><polygon points="409.9,39.4 420,33.3 420,34.6 410.2,41.5" fill="#ff0e00" stroke="#ff0e00" stroke-width="0.25" /><polygon points="420,26.5 434.5,23 434.5,23.2 420,26.7" fill="#8a0000" stroke="#8a0000" stroke-width="0.25" /><polygon points="420,26.7 434.5,23.2 434.5,23.4 420,27.2" fill="#8a0000" stroke="#8a0000" stroke-width="0.25" /><polygon points="420,27.2 434.5,23.4 434.5,23.8 420,27.8" fill="#8a0000" stroke="#8a0000" stroke-width="0.25" /><polygon points="420,27.8 434.5,23.8 434.5,24.3 420,28.5" fill="#8a0000" stroke="#8a0000" stroke-width="0.25" /><polygon points="420,28.5 434.5,24.3 434.5,24.8 420,29.3" fill="#8a0000" stroke="#8a0000" stroke-width="0.25" /><polygon points="420,29.3 434.5,24.8 434.5,25.3 420,30.1" fill="#8a0000" stroke="#8a0000" stroke-width="0.25" /><polygon points="420,30.1 434.5,25.3 434.5,25.9 420,31.1" fill="#8a0000" stroke="#8a0000" stroke-width="0.25" /><polygon points="420,31.1 434.5,25.9 434.5,26.6 420,32.2" fill="#9a0000" stroke="#9a0000" stroke-width="0.25" /><polygon points="420,32.2 434.5,26.6 434.5,27.3 420,33.3" fill="#af0000" stroke="#af0000" stroke-width="0.25" /><polygon points="420,33.3 434.5,27.3 434.5,28 420,34.6" fill="#c70000" stroke="#c70000" stroke-width="0.25" /><polygon points="434.5,23 447,21.2 447,21.3 434.5,23.2" fill="#8a0000" stroke="#8a0000" stroke-width="0.25" /><polygon points="434.5,23.2 447,21.3 447,21.4 434.5,23.4" fill="#8a0000" stroke="#8a0000" stroke-width="0.25" /><polygon points="434.5,23.4 447,21.4 447,21.5 434.5,23.8" fill="#8a0000" stroke="#8a0000" stroke-width="0.25" /><polygon points="434.5,23.8 447,21.5 447,21.7 434.5,24.3" fill="#8a0000" stroke="#8a0000" stroke-width="0.25" /><polygon points="434.5,24.3 447,21.7 447,21.9 434.5,24.8" fill="#8a0000" stroke="#8a0000" stroke-width="0.25" /><polygon points="434.5,24.8 447,21.9 447,22.2 434.5,25.3" fill="#8a0000" stroke="#8a0000" stroke-width="0.25" /><polygon points="434.5,25.3 447,22.2 447,22.4 434.5,25.9" fill="#8a0000" stroke="#8a0000" stroke-width="0.25" /><polygon points="434.5,25.9 447,22.4 447,22.7 434.5,26.6" fill="#8a0000" stroke="#8a0000" stroke-width="0.25" /><polygon points="434.5,26.6 447,22.7 447,23 434.5,27.3" fill="#8a0000" stroke="#8a0000" stroke-width="0.25" /><polygon points="434.5,27.3 447,23 447,23.3 434.5,28" fill="#8a0000" stroke="#8a0000" stroke-width="0.25" /><polygon points="447,21.2 461,19.8 461,19.8 447,21.3" fill="#8a0000" stroke="#8a0000" stroke-width="0.25" /><polygon points="447,21.3 461,19.8 461,19.8 447,21.4" fill="#8a0000" stroke="#8a0000" stroke-width="0.25" /><polygon points="447,21.4 461,19.8 460.9,19.9 447,21.5" fill="#8a0000" stroke="#8a0000" stroke-width="0.25" /><polygon points="447,21.5 460.9,19.9 460.9,19.9 447,21.7" fill="#8a0000" stroke="#8a0000" stroke-width="0.25" /><polygon points="447,21.7 460.9,19.9 460.8,20 447,21.9" fill="#8a0000" stroke="#8a0000" stroke-width="0.25" /><polygon points="447,21.9 460.8,20 460.8,20 447,22.2" fill="#8a0000" stroke="#8a0000" stroke-width="0.25" /><polygon points="447,22.2 460.8,20 460.7,20.1 447,22.4" fill="#8a0000" stroke="#8a0000" stroke-width="0.25" /><polygon points="447,22.4 460.7,20.1 460.6,20.2 447,22.7" fill="#8a0000" stroke="#8a0000" stroke-width="0.25" /><polygon points="447,22.7 460.6,20.2 460.6,20.2 447,23" fill="#8a0000" stroke="#8a0000" stroke-width="0.25" /><polygon points="447,23 460.6,20.2 460.5,20.3 447,23.3" fill="#8a0000" stroke="#8a0000" stroke-width="0.25" /><polygon points="461,19.8 480,19 480,19 461,19.8" fill="#8a0000" stroke="#8a0000" stroke-width="0.25" /><polygon points="461,19.8 480,19 480,19 461,19.8" fill="#8a0000" stroke="#8a0000" stroke-width="0.25" /><polygon points="461,19.8 480,19 480,19 460.9,19.9" fill="#8a0000" stroke="#8a0000" stroke-width="0.25" /><polygon points="460.9,19.9 480,19 480,19 460.9,19.9" fill="#8a0000" stroke="#8a0000" stroke-width="0.25" /><polygon points="460.9,19.9 480,19 480,19 460.8,20" fill="#8a0000" stroke="#8a0000" stroke-width="0.25" /><polygon points="460.8,20 480,19 480,19 460.8,20" fill="#8a0000" stroke="#8a0000" stroke-width="0.25" /><polygon points="460.8,20 480,19 480,19 460.7,20.1" fill="#8a0000" stroke="#8a0000" stroke-width="0.25" /><polygon points="460.7,20.1 480,19 480,19 460.6,20.2" fill="#8a0000" stroke="#8a0000" stroke-width="0.25" /><polygon points="460.6,20.2 480,19 480,19 460.6,20.2" fill="#8a0000" stroke="#8a0000" stroke-width="0.25" /><polygon points="460.6,20.2 480,19 480,19 460.5,20.3" fill="#8a0000" stroke="#8a0000" stroke-width="0.25" /><polyline points="372.9,24.5 372.6,24.9 372.2,25.4 371.6,26.2 370.5,27.5 368.3,31.4 366.1,38.7 364,46.9 361.8,58.4 358.6,79.5 351,117" fill="none" stroke="#1a1a1a" stroke-width="0.3" /><polyline points="379.1,26.8 378.9,27.3 378.6,27.9 378.3,28.7 377.7,30.1 376.2,33.9 373.7,40.5 371,48.3 368.1,57.5 364.2,72.6 362,83" fill="none" stroke="#1a1a1a" stroke-width="0.3" /><polyline points="385.6,31 385.3,31.6 384.9,32.2 384.4,33.1 383.7,34.3 382.2,37 380.1,40.9 377.9,45.5 375.5,50.8 372.8,57.2 371,62" fill="none" stroke="#1a1a1a" stroke-width="0.3" /><polyline points="392.2,35.5 391.8,35.8 391.4,36.3 390.8,36.9 390.1,37.6 389.1,38.6 387.8,39.9 386.2,41.6 384.5,43.5 382.5,45.8 381,47.5" fill="none" stroke="#1a1a1a" stroke-width="0.3" /><polyline points="400.4,31.4 400.2,31.7 399.9,32.2 399.5,32.9 398.9,33.7 398.3,34.7 397.6,35.9 396.9,37.1 396,38.4 395,40 393.8,42" fill="none" stroke="#1a1a1a" stroke-width="0.3" /><polyline points="408.6,29.4 408.6,29.8 408.7,30.4 408.8,31.2 409,32.2 409.1,33.4 409.3,34.7 409.5,36.1 409.7,37.6 409.9,39.4 410.2,41.5" fill="none" stroke="#1a1a1a" stroke-width="0.3" /><polyline points="420,26.5 420,26.7 420,27.2 420,27.8 420,28.5 420,29.3 420,30.1 420,31.1 420,32.2 420,33.3 420,34.6" fill="none" stroke="#1a1a1a" stroke-width="0.3" /><polyline points="434.5,23 434.5,23.2 434.5,23.4 434.5,23.8 434.5,24.3 434.5,24.8 434.5,25.3 434.5,25.9 434.5,26.6 434.5,27.3 434.5,28" fill="none" stroke="#1a1a1a" stroke-width="0.3" /><polyline points="447,21.2 447,21.3 447,21.4 447,21.5 447,21.7 447,21.9 447,22.2 447,22.4 447,22.7 447,23 447,23.3" fill="none" stroke="#1a1a1a" stroke-width="0.3" /><polyline points="461,19.8 461,19.8 461,19.8 460.9,19.9 460.9,19.9 460.8,20 460.8,20 460.7,20.1 460.6,20.2 460.6,20.2 460.5,20.3" fill="none" stroke="#1a1a1a" stroke-width="0.3" /><polyline points="480,19 480,19 480,19 480,19 480,19 480,19 480,19 480,19 480,19 480,19 480,19" fill="none" stroke="#1a1a1a" stroke-width="0.3" /><polyline points="372.9,24.5 379.1,26.8 385.6,31 392.2,35.5 400.4,31.4 408.6,29.4 420,26.5 434.5,23 447,21.2 461,19.8 480,19" fill="none" stroke="#1a1a1a" stroke-width="0.3" /><polyline points="372.6,24.9 378.9,27.3 385.3,31.6 391.8,35.8 400.2,31.7 408.6,29.8 420,26.7 434.5,23.2 447,21.3 461,19.8 480,19" fill="none" stroke="#1a1a1a" stroke-width="0.3" /><polyline points="372.2,25.4 378.6,27.9 384.9,32.2 391.4,36.3 399.9,32.2 408.7,30.4 420,27.2 434.5,23.4 447,21.4 461,19.8 480,19" fill="none" stroke="#1a1a1a" stroke-width="0.3" /><polyline points="371.6,26.2 378.3,28.7 384.4,33.1 390.8,36.9 399.5,32.9 408.8,31.2 420,27.8 434.5,23.8 447,21.5 460.9,19.9 480,19" fill="none" stroke="#1a1a1a" stroke-width="0.3" /><polyline points="370.5,27.5 377.7,30.1 383.7,34.3 390.1,37.6 398.9,33.7 409,32.2 420,28.5 434.5,24.3 447,21.7 460.9,19.9 480,19" fill="none" stroke="#1a1a1a" stroke-width="0.3" /><polyline points="368.3,31.4 376.2,33.9 382.2,37 389.1,38.6 398.3,34.7 409.1,33.4 420,29.3 434.5,24.8 447,21.9 460.8,20 480,19" fill="none" stroke="#1a1a1a" stroke-width="0.3" /><polyline points="366.1,38.7 373.7,40.5 380.1,40.9 387.8,39.9 397.6,35.9 409.3,34.7 420,30.1 434.5,25.3 447,22.2 460.8,20 480,19" fill="none" stroke="#1a1a1a" stroke-width="0.3" /><polyline points="364,46.9 371,48.3 377.9,45.5 386.2,41.6 396.9,37.1 409.5,36.1 420,31.1 434.5,25.9 447,22.4 460.7,20.1 480,19" fill="none" stroke="#1a1a1a" stroke-width="0.3" /><polyline points="361.8,58.4 368.1,57.5 375.5,50.8 384.5,43.5 396,38.4 409.7,37.6 420,32.2 434.5,26.6 447,22.7 460.6,20.2 480,19" fill="none" stroke="#1a1a1a" stroke-width="0.3" /><polyline points="358.6,79.5 364.2,72.6 372.8,57.2 382.5,45.8 395,40 409.9,39.4 420,33.3 434.5,27.3 447,23 460.6,20.2 480,19" fill="none" stroke="#1a1a1a" stroke-width="0.3" /><polyline points="351,117 362,83 371,62 381,47.5 393.8,42 410.2,41.5 420,34.6 434.5,28 447,23.3 460.5,20.3 480,19" fill="none" stroke="#1a1a1a" stroke-width="0.3" /></g>
<text x="338.2" y="34.7" font-family="'Liberation Sans', Arial, sans-serif" font-size="3.3" text-anchor="end" fill="#333" >1.16</text>
<text x="338.2" y="44.8" font-family="'Liberation Sans', Arial, sans-serif" font-size="3.3" text-anchor="end" fill="#333" >1.14</text>
<text x="338.2" y="54.8" font-family="'Liberation Sans', Arial, sans-serif" font-size="3.3" text-anchor="end" fill="#333" >1.12</text>
<text x="338.2" y="64.9" font-family="'Liberation Sans', Arial, sans-serif" font-size="3.3" text-anchor="end" fill="#333" >1.1</text>
<text x="338.2" y="74.9" font-family="'Liberation Sans', Arial, sans-serif" font-size="3.3" text-anchor="end" fill="#333" >1.08</text>
<text x="338.2" y="85" font-family="'Liberation Sans', Arial, sans-serif" font-size="3.3" text-anchor="end" fill="#333" >1.06</text>
<text x="338.2" y="95" font-family="'Liberation Sans', Arial, sans-serif" font-size="3.3" text-anchor="end" fill="#333" >1.04</text>
<text x="338.2" y="105.1" font-family="'Liberation Sans', Arial, sans-serif" font-size="3.3" text-anchor="end" fill="#333" >1.02</text>
<text x="338.2" y="115.1" font-family="'Liberation Sans', Arial, sans-serif" font-size="3.3" text-anchor="end" fill="#333" >1</text>
<text x="338.2" y="125.2" font-family="'Liberation Sans', Arial, sans-serif" font-size="3.3" text-anchor="end" fill="#333" >0.98</text>
<text x="327.2" y="78" font-family="'Liberation Sans', Arial, sans-serif" font-size="4.9" text-anchor="middle" fill="#333" transform="rotate(-90 327.2 78)" >Effectiveness factor</text>
<text x="337" y="130.7" font-family="'Liberation Sans', Arial, sans-serif" font-size="3.3" text-anchor="middle" fill="#333" >0</text>
<text x="363" y="132.2" font-family="'Liberation Sans', Arial, sans-serif" font-size="3.3" text-anchor="middle" fill="#333" >0.5</text>
<text x="390" y="133.8" font-family="'Liberation Sans', Arial, sans-serif" font-size="3.3" text-anchor="middle" fill="#333" >1</text>
<text x="415.5" y="135.2" font-family="'Liberation Sans', Arial, sans-serif" font-size="3.3" text-anchor="middle" fill="#333" >1.5</text>
<text x="442.3" y="136.8" font-family="'Liberation Sans', Arial, sans-serif" font-size="3.3" text-anchor="middle" fill="#333" >2</text>
<text x="467.5" y="137.8" font-family="'Liberation Sans', Arial, sans-serif" font-size="3.3" text-anchor="middle" fill="#333" >2.5</text>
<text x="511.8" y="106.2" font-family="'Liberation Sans', Arial, sans-serif" font-size="3.3" text-anchor="middle" fill="#333" >0</text>
<text x="505.6" y="110.8" font-family="'Liberation Sans', Arial, sans-serif" font-size="3.3" text-anchor="middle" fill="#333" >0.2</text>
<text x="499.5" y="116.4" font-family="'Liberation Sans', Arial, sans-serif" font-size="3.3" text-anchor="middle" fill="#333" >0.4</text>
<text x="492.7" y="122.6" font-family="'Liberation Sans', Arial, sans-serif" font-size="3.3" text-anchor="middle" fill="#333" >0.6</text>
<text x="486.3" y="128.6" font-family="'Liberation Sans', Arial, sans-serif" font-size="3.3" text-anchor="middle" fill="#333" >0.8</text>
<text x="478.5" y="134.8" font-family="'Liberation Sans', Arial, sans-serif" font-size="3.3" text-anchor="middle" fill="#333" >1</text>
<text x="410" y="147.8" font-family="'Liberation Sans', Arial, sans-serif" font-size="4.6" text-anchor="middle" fill="#333" >Reactor length (m)</text>
<text x="508" y="139.3" font-family="'Liberation Sans', Arial, sans-serif" font-size="4.6" text-anchor="middle" fill="#333" >Thiele modulus</text>
<text x="424.5" y="160.8" font-family="'Liberation Serif', 'DejaVu Serif', serif" font-size="11" text-anchor="middle" fill="#111" >(<tspan font-weight='bold'>b</tspan>)</text>
</g>
<g id='plot_c'>
<g><line x1="21" y1="275.4" x2="21" y2="188.6" stroke="#e2e2e2" stroke-width="0.5" /><line x1="44.6" y1="270.9" x2="44.6" y2="184.1" stroke="#e2e2e2" stroke-width="0.5" /><line x1="68.2" y1="266.4" x2="68.2" y2="179.6" stroke="#e2e2e2" stroke-width="0.5" /><line x1="91.8" y1="261.9" x2="91.8" y2="175.1" stroke="#e2e2e2" stroke-width="0.5" /><line x1="115.4" y1="257.4" x2="115.4" y2="170.6" stroke="#e2e2e2" stroke-width="0.5" /><line x1="139" y1="252.9" x2="139" y2="166.1" stroke="#e2e2e2" stroke-width="0.5" /><line x1="21" y1="275.4" x2="139" y2="252.9" stroke="#e2e2e2" stroke-width="0.5" /><line x1="21" y1="263" x2="139" y2="240.5" stroke="#e2e2e2" stroke-width="0.5" /><line x1="21" y1="250.6" x2="139" y2="228.1" stroke="#e2e2e2" stroke-width="0.5" /><line x1="21" y1="238.2" x2="139" y2="215.7" stroke="#e2e2e2" stroke-width="0.5" /><line x1="21" y1="225.8" x2="139" y2="203.3" stroke="#e2e2e2" stroke-width="0.5" /><line x1="21" y1="213.4" x2="139" y2="190.9" stroke="#e2e2e2" stroke-width="0.5" /><line x1="21" y1="201" x2="139" y2="178.5" stroke="#e2e2e2" stroke-width="0.5" /><line x1="21" y1="188.6" x2="139" y2="166.1" stroke="#e2e2e2" stroke-width="0.5" /><line x1="238" y1="279.5" x2="238" y2="192.7" stroke="#e2e2e2" stroke-width="0.5" /><line x1="218.2" y1="274.2" x2="218.2" y2="187.4" stroke="#e2e2e2" stroke-width="0.5" /><line x1="198.4" y1="268.9" x2="198.4" y2="182.1" stroke="#e2e2e2" stroke-width="0.5" /><line x1="178.6" y1="263.5" x2="178.6" y2="176.7" stroke="#e2e2e2" stroke-width="0.5" /><line x1="158.8" y1="258.2" x2="158.8" y2="171.4" stroke="#e2e2e2" stroke-width="0.5" /><line x1="139" y1="252.9" x2="139" y2="166.1" stroke="#e2e2e2" stroke-width="0.5" /><line x1="238" y1="279.5" x2="139" y2="252.9" stroke="#e2e2e2" stroke-width="0.5" /><line x1="238" y1="267.1" x2="139" y2="240.5" stroke="#e2e2e2" stroke-width="0.5" /><line x1="238" y1="254.7" x2="139" y2="228.1" stroke="#e2e2e2" stroke-width="0.5" /><line x1="238" y1="242.3" x2="139" y2="215.7" stroke="#e2e2e2" stroke-width="0.5" /><line x1="238" y1="229.9" x2="139" y2="203.3" stroke="#e2e2e2" stroke-width="0.5" /><line x1="238" y1="217.5" x2="139" y2="190.9" stroke="#e2e2e2" stroke-width="0.5" /><line x1="238" y1="205.1" x2="139" y2="178.5" stroke="#e2e2e2" stroke-width="0.5" /><line x1="238" y1="192.7" x2="139" y2="166.1" stroke="#e2e2e2" stroke-width="0.5" /><line x1="120" y1="302" x2="238" y2="279.5" stroke="#e2e2e2" stroke-width="0.5" /><line x1="100.2" y1="296.7" x2="218.2" y2="274.2" stroke="#e2e2e2" stroke-width="0.5" /><line x1="80.4" y1="291.4" x2="198.4" y2="268.9" stroke="#e2e2e2" stroke-width="0.5" /><line x1="60.6" y1="286" x2="178.6" y2="263.5" stroke="#e2e2e2" stroke-width="0.5" /><line x1="40.8" y1="280.7" x2="158.8" y2="258.2" stroke="#e2e2e2" stroke-width="0.5" /><line x1="21" y1="275.4" x2="139" y2="252.9" stroke="#e2e2e2" stroke-width="0.5" /><line x1="120" y1="302" x2="21" y2="275.4" stroke="#e2e2e2" stroke-width="0.5" /><line x1="143.6" y1="297.5" x2="44.6" y2="270.9" stroke="#e2e2e2" stroke-width="0.5" /><line x1="167.2" y1="293" x2="68.2" y2="266.4" stroke="#e2e2e2" stroke-width="0.5" /><line x1="190.8" y1="288.5" x2="91.8" y2="261.9" stroke="#e2e2e2" stroke-width="0.5" /><line x1="214.4" y1="284" x2="115.4" y2="257.4" stroke="#e2e2e2" stroke-width="0.5" /><line x1="238" y1="279.5" x2="139" y2="252.9" stroke="#e2e2e2" stroke-width="0.5" /></g>
<line x1="21" y1="275.4" x2="21" y2="188.6" stroke="#4a4a4a" stroke-width="0.55" />
<line x1="21" y1="275.4" x2="120" y2="302" stroke="#4a4a4a" stroke-width="0.55" />
<line x1="120" y1="302" x2="238" y2="279.5" stroke="#4a4a4a" stroke-width="0.55" />
<line x1="21" y1="275.4" x2="19.4" y2="275.4" stroke="#4a4a4a" stroke-width="0.45" />
<line x1="21" y1="263" x2="19.4" y2="263" stroke="#4a4a4a" stroke-width="0.45" />
<line x1="21" y1="250.6" x2="19.4" y2="250.6" stroke="#4a4a4a" stroke-width="0.45" />
<line x1="21" y1="238.2" x2="19.4" y2="238.2" stroke="#4a4a4a" stroke-width="0.45" />
<line x1="21" y1="225.8" x2="19.4" y2="225.8" stroke="#4a4a4a" stroke-width="0.45" />
<line x1="21" y1="213.4" x2="19.4" y2="213.4" stroke="#4a4a4a" stroke-width="0.45" />
<line x1="21" y1="201" x2="19.4" y2="201" stroke="#4a4a4a" stroke-width="0.45" />
<line x1="21" y1="188.6" x2="19.4" y2="188.6" stroke="#4a4a4a" stroke-width="0.45" />
<line x1="120" y1="302" x2="120.5" y2="300.5" stroke="#4a4a4a" stroke-width="0.45" />
<line x1="100.2" y1="296.7" x2="100.7" y2="295.2" stroke="#4a4a4a" stroke-width="0.45" />
<line x1="80.4" y1="291.4" x2="80.9" y2="289.9" stroke="#4a4a4a" stroke-width="0.45" />
<line x1="60.6" y1="286" x2="61.1" y2="284.5" stroke="#4a4a4a" stroke-width="0.45" />
<line x1="40.8" y1="280.7" x2="41.3" y2="279.2" stroke="#4a4a4a" stroke-width="0.45" />
<line x1="21" y1="275.4" x2="21.5" y2="273.9" stroke="#4a4a4a" stroke-width="0.45" />
<line x1="120" y1="302" x2="119.5" y2="300.5" stroke="#4a4a4a" stroke-width="0.45" />
<line x1="143.6" y1="297.5" x2="143.1" y2="296" stroke="#4a4a4a" stroke-width="0.45" />
<line x1="167.2" y1="293" x2="166.7" y2="291.5" stroke="#4a4a4a" stroke-width="0.45" />
<line x1="190.8" y1="288.5" x2="190.3" y2="287" stroke="#4a4a4a" stroke-width="0.45" />
<line x1="214.4" y1="284" x2="213.9" y2="282.5" stroke="#4a4a4a" stroke-width="0.45" />
<line x1="238" y1="279.5" x2="237.5" y2="278" stroke="#4a4a4a" stroke-width="0.45" />
<g stroke-linejoin='round'><polygon points="143.7,216.2 144.4,209.5 134.5,176.9 133.8,188.2" fill="#3cc895" stroke="#16203a" stroke-width="0.4" /><polygon points="141.8,220.1 143.7,216.2 133.8,188.2 131.9,190.9" fill="#0cbbc0" stroke="#16203a" stroke-width="0.4" /><polygon points="153.6,228.2 154.3,225 144.4,209.5 143.7,216.2" fill="#1aa9dd" stroke="#16203a" stroke-width="0.4" /><polygon points="132.9,222.4 141.8,220.1 131.9,190.9 123,197.8" fill="#11b2d3" stroke="#16203a" stroke-width="0.4" /><polygon points="151.7,229.1 153.6,228.2 143.7,216.2 141.8,220.1" fill="#249de7" stroke="#16203a" stroke-width="0.4" /><polygon points="126.2,222.7 132.9,222.4 123,197.8 116.3,204.8" fill="#12b1d6" stroke="#16203a" stroke-width="0.4" /><polygon points="163,237.2 164.2,235.7 154.3,225 153.6,228.2" fill="#2f88f5" stroke="#16203a" stroke-width="0.4" /><polygon points="142.8,228.3 151.7,229.1 141.8,220.1 132.9,222.4" fill="#269be8" stroke="#16203a" stroke-width="0.4" /><polygon points="121.1,223.1 126.2,222.7 116.3,204.8 111.2,211.8" fill="#10b4d1" stroke="#16203a" stroke-width="0.4" /><polygon points="160.6,238.1 163,237.2 153.6,228.2 151.7,229.1" fill="#3282f8" stroke="#16203a" stroke-width="0.4" /><polygon points="136.1,228.2 142.8,228.3 132.9,222.4 126.2,222.7" fill="#1ea5e0" stroke="#16203a" stroke-width="0.4" /><polygon points="171.7,246.3 174.1,247 164.2,235.7 163,237.2" fill="#465cfa" stroke="#16203a" stroke-width="0.4" /><polygon points="116.3,224.9 121.1,223.1 111.2,211.8 106.4,217.8" fill="#0fb5ce" stroke="#16203a" stroke-width="0.4" /><polygon points="151.7,237.9 160.6,238.1 151.7,229.1 142.8,228.3" fill="#337ff9" stroke="#16203a" stroke-width="0.4" /><polygon points="131,228.8 136.1,228.2 126.2,222.7 121.1,223.1" fill="#19aadc" stroke="#16203a" stroke-width="0.4" /><polygon points="167.8,245.6 171.7,246.3 163,237.2 160.6,238.1" fill="#4462fb" stroke="#16203a" stroke-width="0.4" /><polygon points="111.6,228.2 116.3,224.9 106.4,217.8 101.7,223.8" fill="#11b3d3" stroke="#16203a" stroke-width="0.4" /><polygon points="145,236.2 151.7,237.9 142.8,228.3 136.1,228.2" fill="#2f88f5" stroke="#16203a" stroke-width="0.4" /><polygon points="180,252.6 184,252.2 174.1,247 171.7,246.3" fill="#4750f1" stroke="#16203a" stroke-width="0.4" /><polygon points="126.2,229.8 131,228.8 121.1,223.1 116.3,224.9" fill="#17abdb" stroke="#16203a" stroke-width="0.4" /><polygon points="159.1,244.2 167.8,245.6 160.6,238.1 151.7,237.9" fill="#3f69fc" stroke="#16203a" stroke-width="0.4" /><polygon points="106.9,232.6 111.6,228.2 101.7,223.8 97,229.7" fill="#18abdc" stroke="#16203a" stroke-width="0.4" /><polygon points="139.8,234.9 145,236.2 136.1,228.2 131,228.8" fill="#2896ec" stroke="#16203a" stroke-width="0.4" /><polygon points="174.3,253.3 180,252.6 171.7,246.3 167.8,245.6" fill="#4752f3" stroke="#16203a" stroke-width="0.4" /><polygon points="121.5,231.1 126.2,229.8 116.3,224.9 111.6,228.2" fill="#18abdb" stroke="#16203a" stroke-width="0.4" /><polygon points="152.3,243.1 159.1,244.2 151.7,237.9 145,236.2" fill="#3679fc" stroke="#16203a" stroke-width="0.4" /><polygon points="102.2,238.1 106.9,232.6 97,229.7 92.3,235.2" fill="#259de7" stroke="#16203a" stroke-width="0.4" /><polygon points="188.3,259.9 193.9,257.3 184,252.2 180,252.6" fill="#4744e7" stroke="#16203a" stroke-width="0.4" /><polygon points="135.1,234.1 139.8,234.9 131,228.8 126.2,229.8" fill="#249fe5" stroke="#16203a" stroke-width="0.4" /><polygon points="165.8,253.4 174.3,253.3 167.8,245.6 159.1,244.2" fill="#4754f4" stroke="#16203a" stroke-width="0.4" /><polygon points="116.8,232.9 121.5,231.1 111.6,228.2 106.9,232.6" fill="#19aadd" stroke="#16203a" stroke-width="0.4" /><polygon points="147,241.3 152.3,243.1 145,236.2 139.8,234.9" fill="#3185f6" stroke="#16203a" stroke-width="0.4" /><polygon points="97,240.9 102.2,238.1 92.3,235.2 87.1,240.4" fill="#2e89f4" stroke="#16203a" stroke-width="0.4" /><polygon points="180.8,262.5 188.3,259.9 180,252.6 174.3,253.3" fill="#463edc" stroke="#16203a" stroke-width="0.4" /><polygon points="130.6,233.8 135.1,234.1 126.2,229.8 121.5,231.1" fill="#1da6e0" stroke="#16203a" stroke-width="0.4" /><polygon points="158.8,252.6 165.8,253.4 159.1,244.2 152.3,243.1" fill="#475bf9" stroke="#16203a" stroke-width="0.4" /><polygon points="112.1,235 116.8,232.9 106.9,232.6 102.2,238.1" fill="#1da6df" stroke="#16203a" stroke-width="0.4" /><polygon points="197,263.2 203.8,260.6 193.9,257.3 188.3,259.9" fill="#4641e3" stroke="#16203a" stroke-width="0.4" /><polygon points="142.5,239.2 147,241.3 139.8,234.9 135.1,234.1" fill="#2a92ef" stroke="#16203a" stroke-width="0.4" /><polygon points="91.3,247.3 97,240.9 87.1,240.4 81.4,245.6" fill="#3380f9" stroke="#16203a" stroke-width="0.4" /><polygon points="172.6,263.1 180.8,262.5 174.3,253.3 165.8,253.4" fill="#4538d4" stroke="#16203a" stroke-width="0.4" /><polygon points="126.1,234.3 130.6,233.8 121.5,231.1 116.8,232.9" fill="#19aadc" stroke="#16203a" stroke-width="0.4" /><polygon points="153.3,251.3 158.8,252.6 152.3,243.1 147,241.3" fill="#4266fc" stroke="#16203a" stroke-width="0.4" /><polygon points="106.9,239.3 112.1,235 102.2,238.1 97,240.9" fill="#21a2e3" stroke="#16203a" stroke-width="0.4" /><polygon points="188.1,266 197,263.2 188.3,259.9 180.8,262.5" fill="#453cda" stroke="#16203a" stroke-width="0.4" /><polygon points="138.5,237.9 142.5,239.2 135.1,234.1 130.6,233.8" fill="#249ee6" stroke="#16203a" stroke-width="0.4" /><polygon points="84.7,253.5 91.3,247.3 81.4,245.6 74.8,251.3" fill="#4265fc" stroke="#16203a" stroke-width="0.4" /><polygon points="165.3,263.1 172.6,263.1 165.8,253.4 158.8,252.6" fill="#453ddb" stroke="#16203a" stroke-width="0.4" /><polygon points="121.7,235.8 126.1,234.3 116.8,232.9 112.1,235" fill="#18abdb" stroke="#16203a" stroke-width="0.4" /><polygon points="206.4,266.1 213.7,263.9 203.8,260.6 197,263.2" fill="#463fde" stroke="#16203a" stroke-width="0.4" /><polygon points="149.1,250.1 153.3,251.3 147,241.3 142.5,239.2" fill="#3a72fe" stroke="#16203a" stroke-width="0.4" /><polygon points="101.2,248.5 106.9,239.3 97,240.9 91.3,247.3" fill="#2994ed" stroke="#16203a" stroke-width="0.4" /><polygon points="180,266.4 188.1,266 180.8,262.5 172.6,263.1" fill="#4437d2" stroke="#16203a" stroke-width="0.4" /><polygon points="134.6,237.3 138.5,237.9 130.6,233.8 126.1,234.3" fill="#1da6df" stroke="#16203a" stroke-width="0.4" /><polygon points="78.1,258.3 84.7,253.5 74.8,251.3 68.2,255.9" fill="#474def" stroke="#16203a" stroke-width="0.4" /><polygon points="159.7,262.4 165.3,263.1 158.8,252.6 153.3,251.3" fill="#4743e4" stroke="#16203a" stroke-width="0.4" /><polygon points="116.7,241 121.7,235.8 112.1,235 106.9,239.3" fill="#1aa9dd" stroke="#16203a" stroke-width="0.4" /><polygon points="197,269.3 206.4,266.1 197,263.2 188.1,266" fill="#453bd8" stroke="#16203a" stroke-width="0.4" /><polygon points="145.8,248.8 149.1,250.1 142.5,239.2 138.5,237.9" fill="#357cfb" stroke="#16203a" stroke-width="0.4" /><polygon points="94.6,255.4 101.2,248.5 91.3,247.3 84.7,253.5" fill="#3d6dfd" stroke="#16203a" stroke-width="0.4" /><polygon points="172.5,266.3 180,266.4 172.6,263.1 165.3,263.1" fill="#453cda" stroke="#16203a" stroke-width="0.4" /><polygon points="130.8,238.3 134.6,237.3 126.1,234.3 121.7,235.8" fill="#18abdb" stroke="#16203a" stroke-width="0.4" /><polygon points="216.3,268.7 223.6,266.2 213.7,263.9 206.4,266.1" fill="#4640e0" stroke="#16203a" stroke-width="0.4" /><polygon points="70.1,262.9 78.1,258.3 68.2,255.9 60.2,260.5" fill="#463ddb" stroke="#16203a" stroke-width="0.4" /><polygon points="155.7,260.2 159.7,262.4 153.3,251.3 149.1,250.1" fill="#474bee" stroke="#16203a" stroke-width="0.4" /><polygon points="111.2,250.4 116.7,241 106.9,239.3 101.2,248.5" fill="#2798ea" stroke="#16203a" stroke-width="0.4" /><polygon points="188.9,269.6 197,269.3 188.1,266 180,266.4" fill="#4435cf" stroke="#16203a" stroke-width="0.4" /><polygon points="142.7,246.6 145.8,248.8 138.5,237.9 134.6,237.3" fill="#3085f6" stroke="#16203a" stroke-width="0.4" /><polygon points="88,260.5 94.6,255.4 84.7,253.5 78.1,258.3" fill="#4751f2" stroke="#16203a" stroke-width="0.4" /><polygon points="166.9,265.2 172.5,266.3 165.3,263.1 159.7,262.4" fill="#4743e4" stroke="#16203a" stroke-width="0.4" /><polygon points="126.4,243.2 130.8,238.3 121.7,235.8 116.7,241" fill="#19aadc" stroke="#16203a" stroke-width="0.4" /><polygon points="206.9,272 216.3,268.7 206.4,266.1 197,269.3" fill="#453bd9" stroke="#16203a" stroke-width="0.4" /><polygon points="61.6,266.5 70.1,262.9 60.2,260.5 51.7,264.1" fill="#4331c6" stroke="#16203a" stroke-width="0.4" /><polygon points="153.1,256.6 155.7,260.2 149.1,250.1 145.8,248.8" fill="#475af8" stroke="#16203a" stroke-width="0.4" /><polygon points="104.8,257.5 111.2,250.4 101.2,248.5 94.6,255.4" fill="#3b71fe" stroke="#16203a" stroke-width="0.4" /><polygon points="181.4,269.7 188.9,269.6 180,266.4 172.5,266.3" fill="#453ad7" stroke="#16203a" stroke-width="0.4" /><polygon points="139.6,243 142.7,246.6 134.6,237.3 130.8,238.3" fill="#2a92ef" stroke="#16203a" stroke-width="0.4" /><polygon points="226.2,271.2 233.5,268.6 223.6,266.2 216.3,268.7" fill="#4641e3" stroke="#16203a" stroke-width="0.4" /><polygon points="80,265.2 88,260.5 78.1,258.3 70.1,262.9" fill="#463fde" stroke="#16203a" stroke-width="0.4" /><polygon points="163.1,262.1 166.9,265.2 159.7,262.4 155.7,260.2" fill="#474def" stroke="#16203a" stroke-width="0.4" /><polygon points="121.1,252.3 126.4,243.2 116.7,241 111.2,250.4" fill="#269be9" stroke="#16203a" stroke-width="0.4" /><polygon points="198.8,272.3 206.9,272 197,269.3 188.9,269.6" fill="#4435cf" stroke="#16203a" stroke-width="0.4" /><polygon points="51.2,269.9 61.6,266.5 51.7,264.1 41.3,267.8" fill="#402bb7" stroke="#16203a" stroke-width="0.4" /><polygon points="150.8,251.1 153.1,256.6 145.8,248.8 142.7,246.6" fill="#3c6efd" stroke="#16203a" stroke-width="0.4" /><polygon points="98.2,262.8 104.8,257.5 94.6,255.4 88,260.5" fill="#4753f4" stroke="#16203a" stroke-width="0.4" /><polygon points="175.7,268.9 181.4,269.7 172.5,266.3 166.9,265.2" fill="#4640e1" stroke="#16203a" stroke-width="0.4" /><polygon points="136.1,245.5 139.6,243 130.8,238.3 126.4,243.2" fill="#20a3e2" stroke="#16203a" stroke-width="0.4" /><polygon points="216.8,274.6 226.2,271.2 216.3,268.7 206.9,272" fill="#453cda" stroke="#16203a" stroke-width="0.4" /><polygon points="71.5,269 80,265.2 70.1,262.9 61.6,266.5" fill="#4332c8" stroke="#16203a" stroke-width="0.4" /><polygon points="161,258.1 163.1,262.1 155.7,260.2 153.1,256.6" fill="#455ffb" stroke="#16203a" stroke-width="0.4" /><polygon points="115.4,259.1 121.1,252.3 111.2,250.4 104.8,257.5" fill="#3975fe" stroke="#16203a" stroke-width="0.4" /><polygon points="191.3,272.3 198.8,272.3 188.9,269.6 181.4,269.7" fill="#453ad7" stroke="#16203a" stroke-width="0.4" /><polygon points="148.5,244.6 150.8,251.1 142.7,246.6 139.6,243" fill="#2d8cf3" stroke="#16203a" stroke-width="0.4" /><polygon points="90.1,267.7 98.2,262.8 88,260.5 80,265.2" fill="#4640e1" stroke="#16203a" stroke-width="0.4" /><polygon points="171.9,266.5 175.7,268.9 166.9,265.2 163.1,262.1" fill="#4749ec" stroke="#16203a" stroke-width="0.4" /><polygon points="131.2,253.9 136.1,245.5 126.4,243.2 121.1,252.3" fill="#259ce8" stroke="#16203a" stroke-width="0.4" /><polygon points="208.7,274.9 216.8,274.6 206.9,272 198.8,272.3" fill="#4435cf" stroke="#16203a" stroke-width="0.4" /><polygon points="61.1,271.9 71.5,269 61.6,266.5 51.2,269.9" fill="#402cb8" stroke="#16203a" stroke-width="0.4" /><polygon points="159.3,252.7 161,258.1 153.1,256.6 150.8,251.1" fill="#3876fe" stroke="#16203a" stroke-width="0.4" /><polygon points="108.8,264.8 115.4,259.1 104.8,257.5 98.2,262.8" fill="#4758f7" stroke="#16203a" stroke-width="0.4" /><polygon points="185.6,271.5 191.3,272.3 181.4,269.7 175.7,268.9" fill="#4640e1" stroke="#16203a" stroke-width="0.4" /><polygon points="145.8,247.9 148.5,244.6 139.6,243 136.1,245.5" fill="#1ba8de" stroke="#16203a" stroke-width="0.4" /><polygon points="81.4,271.6 90.1,267.7 80,265.2 71.5,269" fill="#4332c9" stroke="#16203a" stroke-width="0.4" /><polygon points="170.1,262 171.9,266.5 163.1,262.1 161,258.1" fill="#4758f7" stroke="#16203a" stroke-width="0.4" /><polygon points="126.2,260.4 131.2,253.9 121.1,252.3 115.4,259.1" fill="#367afc" stroke="#16203a" stroke-width="0.4" /><polygon points="201.2,275 208.7,274.9 198.8,272.3 191.3,272.3" fill="#453ad7" stroke="#16203a" stroke-width="0.4" /><polygon points="157.6,247.3 159.3,252.7 150.8,251.1 148.5,244.6" fill="#2a91ef" stroke="#16203a" stroke-width="0.4" /><polygon points="100.4,270.1 108.8,264.8 98.2,262.8 90.1,267.7" fill="#4743e5" stroke="#16203a" stroke-width="0.4" /><polygon points="181.8,269.2 185.6,271.5 175.7,268.9 171.9,266.5" fill="#4749ec" stroke="#16203a" stroke-width="0.4" /><polygon points="141.2,255.5 145.8,247.9 136.1,245.5 131.2,253.9" fill="#259de7" stroke="#16203a" stroke-width="0.4" /><polygon points="71,274.6 81.4,271.6 71.5,269 61.1,271.9" fill="#402cb9" stroke="#16203a" stroke-width="0.4" /><polygon points="168.6,256 170.1,262 161,258.1 159.3,252.7" fill="#3b70fe" stroke="#16203a" stroke-width="0.4" /><polygon points="119.6,266.5 126.2,260.4 115.4,259.1 108.8,264.8" fill="#465dfb" stroke="#16203a" stroke-width="0.4" /><polygon points="195.5,274.2 201.2,275 191.3,272.3 185.6,271.5" fill="#4640e1" stroke="#16203a" stroke-width="0.4" /><polygon points="155.5,250.3 157.6,247.3 148.5,244.6 145.8,247.9" fill="#1ba8de" stroke="#16203a" stroke-width="0.4" /><polygon points="91.3,274.3 100.4,270.1 90.1,267.7 81.4,271.6" fill="#4433cb" stroke="#16203a" stroke-width="0.4" /><polygon points="180,264.7 181.8,269.2 171.9,266.5 170.1,262" fill="#4758f7" stroke="#16203a" stroke-width="0.4" /><polygon points="137,261.6 141.2,255.5 131.2,253.9 126.2,260.4" fill="#347ffa" stroke="#16203a" stroke-width="0.4" /><polygon points="167.2,249.6 168.6,256 159.3,252.7 157.6,247.3" fill="#2c8ff1" stroke="#16203a" stroke-width="0.4" /><polygon points="110.9,272.3 119.6,266.5 108.8,264.8 100.4,270.1" fill="#4746ea" stroke="#16203a" stroke-width="0.4" /><polygon points="191.7,271.8 195.5,274.2 185.6,271.5 181.8,269.2" fill="#4749ec" stroke="#16203a" stroke-width="0.4" /><polygon points="151.2,256.9 155.5,250.3 145.8,247.9 141.2,255.5" fill="#249ee6" stroke="#16203a" stroke-width="0.4" /><polygon points="80.9,277.2 91.3,274.3 81.4,271.6 71,274.6" fill="#402cb9" stroke="#16203a" stroke-width="0.4" /><polygon points="178.5,258.6 180,264.7 170.1,262 168.6,256" fill="#3b70fe" stroke="#16203a" stroke-width="0.4" /><polygon points="130.4,268.2 137,261.6 126.2,260.4 119.6,266.5" fill="#4264fc" stroke="#16203a" stroke-width="0.4" /><polygon points="165.3,252.5 167.2,249.6 157.6,247.3 155.5,250.3" fill="#19aadc" stroke="#16203a" stroke-width="0.4" /><polygon points="101.2,276.9 110.9,272.3 100.4,270.1 91.3,274.3" fill="#4434cd" stroke="#16203a" stroke-width="0.4" /><polygon points="189.9,267.4 191.7,271.8 181.8,269.2 180,264.7" fill="#4758f7" stroke="#16203a" stroke-width="0.4" /><polygon points="147.6,262.8 151.2,256.9 141.2,255.5 137,261.6" fill="#3185f6" stroke="#16203a" stroke-width="0.4" /><polygon points="177.1,252.2 178.5,258.6 168.6,256 167.2,249.6" fill="#2c8ff1" stroke="#16203a" stroke-width="0.4" /><polygon points="121.3,274.5 130.4,268.2 119.6,266.5 110.9,272.3" fill="#474aed" stroke="#16203a" stroke-width="0.4" /><polygon points="161.1,258.4 165.3,252.5 155.5,250.3 151.2,256.9" fill="#23a0e4" stroke="#16203a" stroke-width="0.4" /><polygon points="90.8,279.9 101.2,276.9 91.3,274.3 80.9,277.2" fill="#412cb9" stroke="#16203a" stroke-width="0.4" /><polygon points="188.4,261.3 189.9,267.4 180,264.7 178.5,258.6" fill="#3b70fe" stroke="#16203a" stroke-width="0.4" /><polygon points="141,269.9 147.6,262.8 137,261.6 130.4,268.2" fill="#3e6bfd" stroke="#16203a" stroke-width="0.4" /><polygon points="175.2,254.6 177.1,252.2 167.2,249.6 165.3,252.5" fill="#19aadc" stroke="#16203a" stroke-width="0.4" /><polygon points="111.1,279.5 121.3,274.5 110.9,272.3 101.2,276.9" fill="#4435cf" stroke="#16203a" stroke-width="0.4" /><polygon points="157.8,264.4 161.1,258.4 151.2,256.9 147.6,262.8" fill="#2e8bf4" stroke="#16203a" stroke-width="0.4" /><polygon points="187,254.9 188.4,261.3 178.5,258.6 177.1,252.2" fill="#2c8ff1" stroke="#16203a" stroke-width="0.4" /><polygon points="131.7,276.8 141,269.9 130.4,268.2 121.3,274.5" fill="#474ef0" stroke="#16203a" stroke-width="0.4" /><polygon points="171,260.1 175.2,254.6 165.3,252.5 161.1,258.4" fill="#21a3e3" stroke="#16203a" stroke-width="0.4" /><polygon points="100.7,282.5 111.1,279.5 101.2,276.9 90.8,279.9" fill="#412cb9" stroke="#16203a" stroke-width="0.4" /><polygon points="151.2,272 157.8,264.4 147.6,262.8 141,269.9" fill="#3b70fd" stroke="#16203a" stroke-width="0.4" /><polygon points="185.1,256.7 187,254.9 177.1,252.2 175.2,254.6" fill="#19aadc" stroke="#16203a" stroke-width="0.4" /><polygon points="121,282.2 131.7,276.8 121.3,274.5 111.1,279.5" fill="#4437d1" stroke="#16203a" stroke-width="0.4" /><polygon points="167.7,266.4 171,260.1 161.1,258.4 157.8,264.4" fill="#2c8ff1" stroke="#16203a" stroke-width="0.4" /><polygon points="141.7,279.2 151.2,272 141,269.9 131.7,276.8" fill="#4750f1" stroke="#16203a" stroke-width="0.4" /><polygon points="180.9,261.7 185.1,256.7 175.2,254.6 171,260.1" fill="#1ea5e1" stroke="#16203a" stroke-width="0.4" /><polygon points="110.6,285.2 121,282.2 111.1,279.5 100.7,282.5" fill="#412cb9" stroke="#16203a" stroke-width="0.4" /><polygon points="161.1,274.3 167.7,266.4 157.8,264.4 151.2,272" fill="#3974fe" stroke="#16203a" stroke-width="0.4" /><polygon points="130.9,284.8 141.7,279.2 131.7,276.8 121,282.2" fill="#4438d3" stroke="#16203a" stroke-width="0.4" /><polygon points="177.6,268.3 180.9,261.7 171,260.1 167.7,266.4" fill="#2993ee" stroke="#16203a" stroke-width="0.4" /><polygon points="151.6,281.8 161.1,274.3 151.2,272 141.7,279.2" fill="#4752f3" stroke="#16203a" stroke-width="0.4" /><polygon points="120.5,287.9 130.9,284.8 121,282.2 110.6,285.2" fill="#412cb9" stroke="#16203a" stroke-width="0.4" /><polygon points="171,276.7 177.6,268.3 167.7,266.4 161.1,274.3" fill="#3777fd" stroke="#16203a" stroke-width="0.4" /><polygon points="140.8,287.4 151.6,281.8 141.7,279.2 130.9,284.8" fill="#4538d4" stroke="#16203a" stroke-width="0.4" /><polygon points="161.5,284.3 171,276.7 161.1,274.3 151.6,281.8" fill="#4754f4" stroke="#16203a" stroke-width="0.4" /><polygon points="130.4,290.5 140.8,287.4 130.9,284.8 120.5,287.9" fill="#412cba" stroke="#16203a" stroke-width="0.4" /><polygon points="150.7,290.1 161.5,284.3 151.6,281.8 140.8,287.4" fill="#4539d5" stroke="#16203a" stroke-width="0.4" /><polygon points="140.3,293.2 150.7,290.1 140.8,287.4 130.4,290.5" fill="#412cba" stroke="#16203a" stroke-width="0.4" /></g>
<text x="17.8" y="277.1" font-family="'Liberation Sans', Arial, sans-serif" font-size="4.8" text-anchor="end" fill="#333" >0</text>
<text x="17.8" y="264.7" font-family="'Liberation Sans', Arial, sans-serif" font-size="4.8" text-anchor="end" fill="#333" >0.1</text>
<text x="17.8" y="252.3" font-family="'Liberation Sans', Arial, sans-serif" font-size="4.8" text-anchor="end" fill="#333" >0.2</text>
<text x="17.8" y="239.9" font-family="'Liberation Sans', Arial, sans-serif" font-size="4.8" text-anchor="end" fill="#333" >0.3</text>
<text x="17.8" y="227.5" font-family="'Liberation Sans', Arial, sans-serif" font-size="4.8" text-anchor="end" fill="#333" >0.4</text>
<text x="17.8" y="215.1" font-family="'Liberation Sans', Arial, sans-serif" font-size="4.8" text-anchor="end" fill="#333" >0.5</text>
<text x="17.8" y="202.7" font-family="'Liberation Sans', Arial, sans-serif" font-size="4.8" text-anchor="end" fill="#333" >0.6</text>
<text x="17.8" y="190.3" font-family="'Liberation Sans', Arial, sans-serif" font-size="4.8" text-anchor="end" fill="#333" >0.7</text>
<text x="8.3" y="233.3" font-family="'Liberation Sans', Arial, sans-serif" font-size="6.1" text-anchor="middle" fill="#222" transform="rotate(-90 8.3 233.3)" >Weisz-Prater modulus</text>
<text x="15.3" y="281.9" font-family="'Liberation Sans', Arial, sans-serif" font-size="5.2" text-anchor="middle" fill="#333" >5</text>
<text x="35.6" y="287.7" font-family="'Liberation Sans', Arial, sans-serif" font-size="5.2" text-anchor="middle" fill="#333" >4</text>
<text x="55.5" y="292.9" font-family="'Liberation Sans', Arial, sans-serif" font-size="5.2" text-anchor="middle" fill="#333" >3</text>
<text x="75" y="297.9" font-family="'Liberation Sans', Arial, sans-serif" font-size="5.2" text-anchor="middle" fill="#333" >2</text>
<text x="95.4" y="302.9" font-family="'Liberation Sans', Arial, sans-serif" font-size="5.2" text-anchor="middle" fill="#333" >1</text>
<text x="115" y="307.9" font-family="'Liberation Sans', Arial, sans-serif" font-size="5.2" text-anchor="middle" fill="#333" >0</text>
<text x="25" y="300.6" font-family="'Liberation Sans', Arial, sans-serif" font-size="5" text-anchor="start" fill="#333" >×10<tspan dy='-1.8' font-size='3.6'>-3</tspan></text>
<text x="61" y="310.8" font-family="'Liberation Sans', Arial, sans-serif" font-size="5.7" text-anchor="middle" fill="#222" >Reactor radius (m)</text>
<text x="129" y="308.6" font-family="'Liberation Sans', Arial, sans-serif" font-size="5.2" text-anchor="middle" fill="#333" >2.5</text>
<text x="150.2" y="304.2" font-family="'Liberation Sans', Arial, sans-serif" font-size="5.2" text-anchor="middle" fill="#333" >2</text>
<text x="175.6" y="299.9" font-family="'Liberation Sans', Arial, sans-serif" font-size="5.2" text-anchor="middle" fill="#333" >1.5</text>
<text x="197.3" y="295.3" font-family="'Liberation Sans', Arial, sans-serif" font-size="5.2" text-anchor="middle" fill="#333" >1</text>
<text x="221.2" y="290.8" font-family="'Liberation Sans', Arial, sans-serif" font-size="5.2" text-anchor="middle" fill="#333" >0.5</text>
<text x="243.6" y="285.7" font-family="'Liberation Sans', Arial, sans-serif" font-size="5.2" text-anchor="middle" fill="#333" >0</text>
<text x="188" y="310.6" font-family="'Liberation Sans', Arial, sans-serif" font-size="5.7" text-anchor="middle" fill="#222" >Reactor length (m)</text>
<text x="124.5" y="323.8" font-family="'Liberation Serif', 'DejaVu Serif', serif" font-size="11" text-anchor="middle" fill="#111" >(<tspan font-weight='bold'>c</tspan>)</text>
</g>
<g id='plot_d'>
<rect x="319.4" y="169.2" width="181.1" height="124" fill="#fff" stroke="#555" stroke-width="0.5"/>
<line x1="319.4" y1="293.2" x2="319.4" y2="291.6" stroke="#555" stroke-width="0.4" />
<line x1="319.4" y1="169.2" x2="319.4" y2="170.8" stroke="#555" stroke-width="0.4" />
<line x1="339.5" y1="293.2" x2="339.5" y2="291.6" stroke="#555" stroke-width="0.4" />
<line x1="339.5" y1="169.2" x2="339.5" y2="170.8" stroke="#555" stroke-width="0.4" />
<line x1="359.6" y1="293.2" x2="359.6" y2="291.6" stroke="#555" stroke-width="0.4" />
<line x1="359.6" y1="169.2" x2="359.6" y2="170.8" stroke="#555" stroke-width="0.4" />
<line x1="379.8" y1="293.2" x2="379.8" y2="291.6" stroke="#555" stroke-width="0.4" />
<line x1="379.8" y1="169.2" x2="379.8" y2="170.8" stroke="#555" stroke-width="0.4" />
<line x1="399.9" y1="293.2" x2="399.9" y2="291.6" stroke="#555" stroke-width="0.4" />
<line x1="399.9" y1="169.2" x2="399.9" y2="170.8" stroke="#555" stroke-width="0.4" />
<line x1="420" y1="293.2" x2="420" y2="291.6" stroke="#555" stroke-width="0.4" />
<line x1="420" y1="169.2" x2="420" y2="170.8" stroke="#555" stroke-width="0.4" />
<line x1="440.1" y1="293.2" x2="440.1" y2="291.6" stroke="#555" stroke-width="0.4" />
<line x1="440.1" y1="169.2" x2="440.1" y2="170.8" stroke="#555" stroke-width="0.4" />
<line x1="460.3" y1="293.2" x2="460.3" y2="291.6" stroke="#555" stroke-width="0.4" />
<line x1="460.3" y1="169.2" x2="460.3" y2="170.8" stroke="#555" stroke-width="0.4" />
<line x1="480.4" y1="293.2" x2="480.4" y2="291.6" stroke="#555" stroke-width="0.4" />
<line x1="480.4" y1="169.2" x2="480.4" y2="170.8" stroke="#555" stroke-width="0.4" />
<line x1="500.5" y1="293.2" x2="500.5" y2="291.6" stroke="#555" stroke-width="0.4" />
<line x1="500.5" y1="169.2" x2="500.5" y2="170.8" stroke="#555" stroke-width="0.4" />
<line x1="319.4" y1="293.2" x2="321" y2="293.2" stroke="#555" stroke-width="0.4" />
<line x1="500.5" y1="293.2" x2="498.9" y2="293.2" stroke="#555" stroke-width="0.4" />
<line x1="319.4" y1="275.5" x2="321" y2="275.5" stroke="#555" stroke-width="0.4" />
<line x1="500.5" y1="275.5" x2="498.9" y2="275.5" stroke="#555" stroke-width="0.4" />
<line x1="319.4" y1="257.8" x2="321" y2="257.8" stroke="#555" stroke-width="0.4" />
<line x1="500.5" y1="257.8" x2="498.9" y2="257.8" stroke="#555" stroke-width="0.4" />
<line x1="319.4" y1="240.1" x2="321" y2="240.1" stroke="#555" stroke-width="0.4" />
<line x1="500.5" y1="240.1" x2="498.9" y2="240.1" stroke="#555" stroke-width="0.4" />
<line x1="319.4" y1="222.3" x2="321" y2="222.3" stroke="#555" stroke-width="0.4" />
<line x1="500.5" y1="222.3" x2="498.9" y2="222.3" stroke="#555" stroke-width="0.4" />
<line x1="319.4" y1="204.6" x2="321" y2="204.6" stroke="#555" stroke-width="0.4" />
<line x1="500.5" y1="204.6" x2="498.9" y2="204.6" stroke="#555" stroke-width="0.4" />
<line x1="319.4" y1="186.9" x2="321" y2="186.9" stroke="#555" stroke-width="0.4" />
<line x1="500.5" y1="186.9" x2="498.9" y2="186.9" stroke="#555" stroke-width="0.4" />
<line x1="319.4" y1="169.2" x2="321" y2="169.2" stroke="#555" stroke-width="0.4" />
<line x1="500.5" y1="169.2" x2="498.9" y2="169.2" stroke="#555" stroke-width="0.4" />
<g><polyline points="472,277.4 474.8,278.2 475.3,280.6 465,278.8 458,276.8 451.3,274.1 450.5,268.5 453.1,262 458.4,253 467.8,243.4 479,248.3 480.4,250.6 482.6,254.6 485.2,260.8 487.7,266.7 488.6,269.5" fill="none" stroke="#0072bd" stroke-width="0.8" stroke-linejoin="round" opacity="0.72"/><polyline points="474.6,278.6 475.3,280.2 465,278.4 458,276.4 452,273.7 451.2,268.5 453.8,262 459.1,253 469.5,244.6 479,248.3 480.4,250.6 482.6,254.6 485.2,260.8 487.7,266.7 488.6,269.5" fill="none" stroke="#d95319" stroke-width="0.8" stroke-linejoin="round" opacity="0.72"/><polyline points="473.2,276.8 474,278.3 475.3,279.8 465,278 458,276 452.8,273.3 452,268.5 454.6,262 459.9,253 471.3,245.7 479,248.3 480.4,250.6 482.6,254.6 485.2,260.8 487.7,266.7 488.6,269.5" fill="none" stroke="#edb120" stroke-width="0.8" stroke-linejoin="round" opacity="0.72"/><polyline points="471.3,275.9 470.8,278 465,277.7 458,275.7 453.4,273 452.6,268.5 455.2,262 460.5,253 473,246.4 479,248.3 480.4,250.6 482.6,254.6 485.2,260.8 487.7,266.7 488.6,269.5" fill="none" stroke="#7e2f8e" stroke-width="0.8" stroke-linejoin="round" opacity="0.72"/><polyline points="467.8,273.3 468.3,275.6 459.9,275 454.5,272.3 453.2,268.5 455.8,262 461.1,253 474.8,247.5 479,248.3 480.4,250.6 482.6,254.6 485.2,260.8 487.7,266.7 488.6,269.5" fill="none" stroke="#77ac30" stroke-width="0.8" stroke-linejoin="round" opacity="0.72"/><polyline points="462.5,269.8 461.6,272.8 456.4,273.3 451,271.5 448.5,270.7 449.4,268.5 452,262 457.3,253 466.5,243 479,248.3 480.4,250.6 482.6,254.6 485.2,260.8 487.7,266.7 488.6,269.5" fill="none" stroke="#4dbeee" stroke-width="0.8" stroke-linejoin="round" opacity="0.72"/><polyline points="447.5,266.5 444.4,270 455,258 465,246.5 471.5,243.8 477,246.3 480.2,250.2 482.6,254.6 485.2,260.8 487.7,266.7 488.6,269.5" fill="none" stroke="#a2142f" stroke-width="0.8" stroke-linejoin="round" opacity="0.72"/><polyline points="441.8,256 440.5,261.7 437.5,264.2 453.3,258.6 464.7,246 469,242.6 475.5,245.2 479.8,249.4 482.6,254.6 485.2,260.8 487.7,266.7 488.6,269.5" fill="none" stroke="#0072bd" stroke-width="0.8" stroke-linejoin="round" opacity="0.72"/><polyline points="420.7,244.6 420.7,256 434,256 458.3,250.5 468.5,247.3 475.5,246.8 479.6,249.6 482.6,254.6 485.2,260.8 487.7,266.7 488.6,269.5" fill="none" stroke="#d95319" stroke-width="0.8" stroke-linejoin="round" opacity="0.72"/><polyline points="385.2,225.6 389,235 392.9,239.3 400.5,242.1 420,241.5 440,240.8 458.3,240.3 468.5,243.3 477.8,247.2 480.6,251 482.6,254.6 485.2,260.8 487.7,266.7 488.6,269.5" fill="none" stroke="#edb120" stroke-width="0.8" stroke-linejoin="round" opacity="0.72"/><polyline points="323.4,181 340.7,194.3 357.3,200.1 376.3,203.2 401.8,205.7 427.8,208.2 440,210.5 457.1,219.2 471,233.2 480,245.9 486.3,261.2 491.4,279 494,286.5" fill="none" stroke="#7e2f8e" stroke-width="0.8" stroke-linejoin="round" opacity="0.72"/></g>
<text x="317.2" y="295" font-family="'Liberation Sans', Arial, sans-serif" font-size="5.1" text-anchor="end" fill="#333" >0</text>
<text x="317.2" y="277.3" font-family="'Liberation Sans', Arial, sans-serif" font-size="5.1" text-anchor="end" fill="#333" >0.1</text>
<text x="317.2" y="259.6" font-family="'Liberation Sans', Arial, sans-serif" font-size="5.1" text-anchor="end" fill="#333" >0.2</text>
<text x="317.2" y="241.9" font-family="'Liberation Sans', Arial, sans-serif" font-size="5.1" text-anchor="end" fill="#333" >0.3</text>
<text x="317.2" y="224.1" font-family="'Liberation Sans', Arial, sans-serif" font-size="5.1" text-anchor="end" fill="#333" >0.4</text>
<text x="317.2" y="206.4" font-family="'Liberation Sans', Arial, sans-serif" font-size="5.1" text-anchor="end" fill="#333" >0.5</text>
<text x="317.2" y="188.7" font-family="'Liberation Sans', Arial, sans-serif" font-size="5.1" text-anchor="end" fill="#333" >0.6</text>
<text x="317.2" y="171" font-family="'Liberation Sans', Arial, sans-serif" font-size="5.1" text-anchor="end" fill="#333" >0.7</text>
<text x="319.4" y="301.2" font-family="'Liberation Sans', Arial, sans-serif" font-size="5.1" text-anchor="middle" fill="#333" >0.98</text>
<text x="339.5" y="301.2" font-family="'Liberation Sans', Arial, sans-serif" font-size="5.1" text-anchor="middle" fill="#333" >1</text>
<text x="359.6" y="301.2" font-family="'Liberation Sans', Arial, sans-serif" font-size="5.1" text-anchor="middle" fill="#333" >1.02</text>
<text x="379.8" y="301.2" font-family="'Liberation Sans', Arial, sans-serif" font-size="5.1" text-anchor="middle" fill="#333" >1.04</text>
<text x="399.9" y="301.2" font-family="'Liberation Sans', Arial, sans-serif" font-size="5.1" text-anchor="middle" fill="#333" >1.06</text>
<text x="420" y="301.2" font-family="'Liberation Sans', Arial, sans-serif" font-size="5.1" text-anchor="middle" fill="#333" >1.08</text>
<text x="440.1" y="301.2" font-family="'Liberation Sans', Arial, sans-serif" font-size="5.1" text-anchor="middle" fill="#333" >1.1</text>
<text x="460.3" y="301.2" font-family="'Liberation Sans', Arial, sans-serif" font-size="5.1" text-anchor="middle" fill="#333" >1.12</text>
<text x="480.4" y="301.2" font-family="'Liberation Sans', Arial, sans-serif" font-size="5.1" text-anchor="middle" fill="#333" >1.14</text>
<text x="500.5" y="301.2" font-family="'Liberation Sans', Arial, sans-serif" font-size="5.1" text-anchor="middle" fill="#333" >1.16</text>
<text x="405.8" y="309.6" font-family="'Liberation Sans', Arial, sans-serif" font-size="6.6" text-anchor="middle" fill="#222" >Effectiveness factor</text>
<text x="307.6" y="228.8" font-family="'Liberation Sans', Arial, sans-serif" font-size="6.5" text-anchor="middle" fill="#222" transform="rotate(-90 307.6 228.8)" >Weisz-Prater modulus</text>
<rect x="507.5" y="215.3" width="41" height="69.6" fill="#fff" stroke="#444" stroke-width="0.5"/>
<line x1="509.5" y1="218.8" x2="523.5" y2="218.8" stroke="#0072bd" stroke-width="0.75" opacity="0.75"/>
<text x="525" y="220.3" font-family="'Liberation Sans', Arial, sans-serif" font-size="4.5" text-anchor="start" fill="#333" >r = 0</text>
<line x1="509.5" y1="225.1" x2="523.5" y2="225.1" stroke="#d95319" stroke-width="0.75" opacity="0.75"/>
<text x="525" y="226.6" font-family="'Liberation Sans', Arial, sans-serif" font-size="4.5" text-anchor="start" fill="#333" >r = 0.0005</text>
<line x1="509.5" y1="231.4" x2="523.5" y2="231.4" stroke="#edb120" stroke-width="0.75" opacity="0.75"/>
<text x="525" y="232.9" font-family="'Liberation Sans', Arial, sans-serif" font-size="4.5" text-anchor="start" fill="#333" >r = 0.0010</text>
<line x1="509.5" y1="237.7" x2="523.5" y2="237.7" stroke="#7e2f8e" stroke-width="0.75" opacity="0.75"/>
<text x="525" y="239.2" font-family="'Liberation Sans', Arial, sans-serif" font-size="4.5" text-anchor="start" fill="#333" >r = 0.0015</text>
<line x1="509.5" y1="244" x2="523.5" y2="244" stroke="#77ac30" stroke-width="0.75" opacity="0.75"/>
<text x="525" y="245.5" font-family="'Liberation Sans', Arial, sans-serif" font-size="4.5" text-anchor="start" fill="#333" >r = 0.0020</text>
<line x1="509.5" y1="250.2" x2="523.5" y2="250.2" stroke="#4dbeee" stroke-width="0.75" opacity="0.75"/>
<text x="525" y="251.8" font-family="'Liberation Sans', Arial, sans-serif" font-size="4.5" text-anchor="start" fill="#333" >r = 0.0025</text>
<line x1="509.5" y1="256.5" x2="523.5" y2="256.5" stroke="#a2142f" stroke-width="0.75" opacity="0.75"/>
<text x="525" y="258" font-family="'Liberation Sans', Arial, sans-serif" font-size="4.5" text-anchor="start" fill="#333" >r = 0.0030</text>
<line x1="509.5" y1="262.8" x2="523.5" y2="262.8" stroke="#0072bd" stroke-width="0.75" opacity="0.75"/>
<text x="525" y="264.3" font-family="'Liberation Sans', Arial, sans-serif" font-size="4.5" text-anchor="start" fill="#333" >r = 0.0035</text>
<line x1="509.5" y1="269.1" x2="523.5" y2="269.1" stroke="#d95319" stroke-width="0.75" opacity="0.75"/>
<text x="525" y="270.6" font-family="'Liberation Sans', Arial, sans-serif" font-size="4.5" text-anchor="start" fill="#333" >r = 0.0040</text>
<line x1="509.5" y1="275.4" x2="523.5" y2="275.4" stroke="#edb120" stroke-width="0.75" opacity="0.75"/>
<text x="525" y="276.9" font-family="'Liberation Sans', Arial, sans-serif" font-size="4.5" text-anchor="start" fill="#333" >r = 0.0045</text>
<line x1="509.5" y1="281.7" x2="523.5" y2="281.7" stroke="#7e2f8e" stroke-width="0.75" opacity="0.75"/>
<text x="525" y="283.2" font-family="'Liberation Sans', Arial, sans-serif" font-size="4.5" text-anchor="start" fill="#333" >r = 0.0050</text>
<text x="424.5" y="323.8" font-family="'Liberation Serif', 'DejaVu Serif', serif" font-size="11" text-anchor="middle" fill="#111" >(<tspan font-weight='bold'>d</tspan>)</text>
</g>
</svg>
</body></html>
